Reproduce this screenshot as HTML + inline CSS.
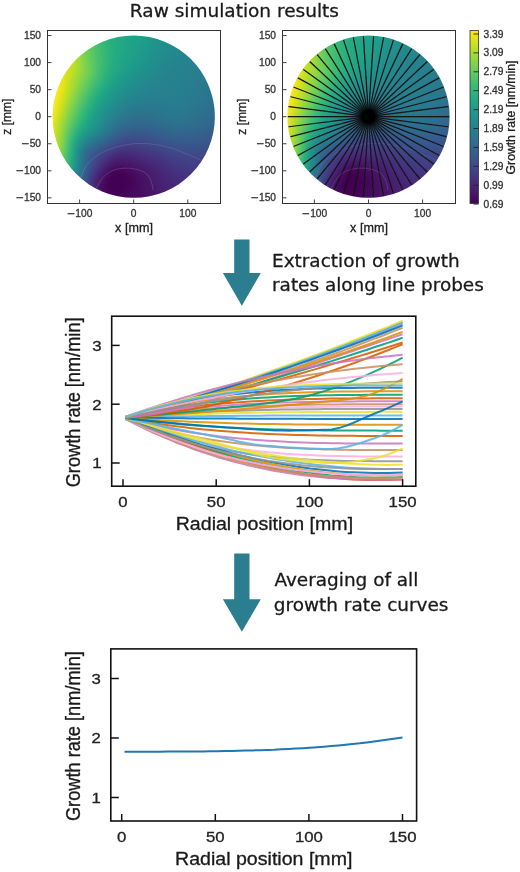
<!DOCTYPE html>
<html><head><meta charset="utf-8"><title>Raw simulation results</title>
<style>
html,body{margin:0;padding:0;background:#fff;}
body{width:520px;height:872px;position:relative;overflow:hidden;}
.fld{position:absolute;}
.fld div{position:absolute;left:0;top:0;width:100%;height:100%;}
svg{position:absolute;left:0;top:0;}
</style></head><body>
<div class="fld" style="left:49.55px;top:32.55px;width:168.30px;height:168.30px;clip-path:circle(81.15px at 50% 50%)">
<div style="background:conic-gradient(#20a386 0deg,#1fa088 5deg,#1f9a8a 10deg,#1f958b 15deg,#20928c 20deg,#228d8d 25deg,#238a8d 30deg,#24868e 35deg,#25838e 40deg,#26828e 45deg,#27808e 50deg,#277e8e 55deg,#297b8e 60deg,#29798e 65deg,#2a768e 70deg,#2b748e 75deg,#2d718e 80deg,#2e6d8e 85deg,#30698e 90deg,#32658e 95deg,#34608d 100deg,#38598c 105deg,#3b528b 110deg,#3e4c8a 115deg,#414487 120deg,#433e85 125deg,#443a83 130deg,#453581 135deg,#472f7d 140deg,#472a7a 145deg,#482677 150deg,#482374 155deg,#481f70 160deg,#48186a 165deg,#471365 170deg,#470e61 175deg,#460b5e 180deg,#46085c 185deg,#450457 190deg,#440256 195deg,#46075a 200deg,#471365 205deg,#482878 210deg,#414487 215deg,#32658e 220deg,#25838e 225deg,#1fa187 230deg,#3aba76 235deg,#60ca60 240deg,#8bd646 245deg,#addc30 250deg,#c5e021 255deg,#d8e219 260deg,#e7e419 265deg,#f6e620 270deg,#fde725 275deg,#fde725 280deg,#fde725 285deg,#fde725 290deg,#f6e620 295deg,#e5e419 300deg,#d5e21a 305deg,#c8e020 310deg,#b0dd2f 315deg,#89d548 320deg,#6ccd5a 325deg,#54c568 330deg,#40bd72 335deg,#2fb47c 340deg,#27ad81 345deg,#25ab82 350deg,#22a785 355deg,#20a386 360deg)"></div>
<div style="background:conic-gradient(#1fa287 0deg,#1f9e89 5deg,#1f998a 10deg,#1f958b 15deg,#21918c 20deg,#228d8d 25deg,#23898e 30deg,#24868e 35deg,#25838e 40deg,#26828e 45deg,#27808e 50deg,#277e8e 55deg,#287c8e 60deg,#297a8e 65deg,#2a788e 70deg,#2a768e 75deg,#2c738e 80deg,#2d708e 85deg,#2f6c8e 90deg,#31688e 95deg,#32648e 100deg,#355e8d 105deg,#38588c 110deg,#3c508b 115deg,#3e4989 120deg,#414287 125deg,#433e85 130deg,#453882 135deg,#46337f 140deg,#472d7b 145deg,#482878 150deg,#482475 155deg,#481f70 160deg,#48186a 165deg,#471365 170deg,#470e61 175deg,#460a5d 180deg,#450559 185deg,#440154 190deg,#440154 195deg,#440154 200deg,#470d60 205deg,#482071 210deg,#443a83 215deg,#38588c 220deg,#2c738e 225deg,#228d8d 230deg,#1fa287 235deg,#32b67a 240deg,#52c569 245deg,#73d056 250deg,#8bd646 255deg,#a2da37 260deg,#b2dd2d 265deg,#c2df23 270deg,#d0e11c 275deg,#d8e219 280deg,#d8e219 285deg,#d8e219 290deg,#d0e11c 295deg,#c2df23 300deg,#b8de29 305deg,#aadc32 310deg,#95d840 315deg,#77d153 320deg,#5ec962 325deg,#4ac16d 330deg,#3aba76 335deg,#2db27d 340deg,#25ac82 345deg,#23a983 350deg,#21a585 355deg,#1fa287 360deg);-webkit-mask-image:radial-gradient(circle at 50% 50%,#000 74.39px,transparent 81.15px);mask-image:radial-gradient(circle at 50% 50%,#000 74.39px,transparent 81.15px)"></div>
<div style="background:conic-gradient(#1fa188 0deg,#1e9d89 5deg,#1f988b 10deg,#1f948c 15deg,#21908d 20deg,#228c8d 25deg,#23898e 30deg,#24868e 35deg,#25838e 40deg,#26828e 45deg,#27808e 50deg,#277f8e 55deg,#287d8e 60deg,#287c8e 65deg,#297a8e 70deg,#2a788e 75deg,#2b758e 80deg,#2c728e 85deg,#2e6f8e 90deg,#2f6c8e 95deg,#31678e 100deg,#33628d 105deg,#365c8d 110deg,#39558c 115deg,#3d4e8a 120deg,#3f4788 125deg,#424186 130deg,#443b84 135deg,#453581 140deg,#472f7d 145deg,#472a7a 150deg,#482475 155deg,#481f70 160deg,#48186a 165deg,#471365 170deg,#470d60 175deg,#46075a 180deg,#440256 185deg,#440154 190deg,#440154 195deg,#440154 200deg,#460b5e 205deg,#481d6f 210deg,#453581 215deg,#3d4d8a 220deg,#33638d 225deg,#2a768e 230deg,#23888e 235deg,#1e9b8a 240deg,#26ad81 245deg,#3dbc74 250deg,#56c667 255deg,#6ccd5a 260deg,#7fd34e 265deg,#8ed645 270deg,#9bd93c 275deg,#a2da37 280deg,#a8db34 285deg,#a8db34 290deg,#a5db36 295deg,#9dd93b 300deg,#95d840 305deg,#8bd646 310deg,#7cd250 315deg,#67cc5c 320deg,#52c569 325deg,#40bd72 330deg,#34b679 335deg,#2ab07f 340deg,#25ab82 345deg,#22a785 350deg,#20a486 355deg,#1fa188 360deg);-webkit-mask-image:radial-gradient(circle at 50% 50%,#000 67.63px,transparent 74.39px);mask-image:radial-gradient(circle at 50% 50%,#000 67.63px,transparent 74.39px)"></div>
<div style="background:conic-gradient(#1f9f88 0deg,#1e9b8a 5deg,#1f978b 10deg,#20928c 15deg,#218f8d 20deg,#228b8d 25deg,#23888e 30deg,#25858e 35deg,#25838e 40deg,#26828e 45deg,#26818e 50deg,#277f8e 55deg,#277e8e 60deg,#287d8e 65deg,#297b8e 70deg,#297a8e 75deg,#2a778e 80deg,#2b748e 85deg,#2c718e 90deg,#2e6f8e 95deg,#306a8e 100deg,#32658e 105deg,#34608d 110deg,#375a8c 115deg,#3a538b 120deg,#3e4c8a 125deg,#404588 130deg,#423f85 135deg,#453882 140deg,#46327e 145deg,#472c7a 150deg,#482576 155deg,#482071 160deg,#481a6c 165deg,#481467 170deg,#470e61 175deg,#46085c 180deg,#450457 185deg,#440154 190deg,#440154 195deg,#440256 200deg,#470e61 205deg,#481f70 210deg,#46337f 215deg,#404688 220deg,#39568c 225deg,#32658e 230deg,#2c728e 235deg,#25858e 240deg,#1f978b 245deg,#22a884 250deg,#31b57b 255deg,#42be71 260deg,#52c569 265deg,#60ca60 270deg,#6ccd5a 275deg,#73d056 280deg,#77d153 285deg,#7ad151 290deg,#7ad151 295deg,#77d153 300deg,#73d056 305deg,#6ccd5a 310deg,#63cb5f 315deg,#54c568 320deg,#44bf70 325deg,#38b977 330deg,#2eb37c 335deg,#27ad81 340deg,#23a983 345deg,#21a585 350deg,#1fa287 355deg,#1f9f88 360deg);-webkit-mask-image:radial-gradient(circle at 50% 50%,#000 60.86px,transparent 67.63px);mask-image:radial-gradient(circle at 50% 50%,#000 60.86px,transparent 67.63px)"></div>
<div style="background:conic-gradient(#1e9c89 0deg,#1f988b 5deg,#1f948c 10deg,#20928c 15deg,#218e8d 20deg,#238a8d 25deg,#24878e 30deg,#25858e 35deg,#25838e 40deg,#26828e 45deg,#26818e 50deg,#27808e 55deg,#277f8e 60deg,#277e8e 65deg,#287c8e 70deg,#297b8e 75deg,#29798e 80deg,#2a778e 85deg,#2b748e 90deg,#2d718e 95deg,#2e6d8e 100deg,#31688e 105deg,#33638d 110deg,#365d8d 115deg,#39568c 120deg,#3c508b 125deg,#3e4989 130deg,#414287 135deg,#433d84 140deg,#453581 145deg,#472f7d 150deg,#482979 155deg,#482374 160deg,#481d6f 165deg,#48186a 170deg,#481467 175deg,#471063 180deg,#460b5e 185deg,#46085c 190deg,#46085c 195deg,#470d60 200deg,#481769 205deg,#482475 210deg,#46337f 215deg,#414287 220deg,#3b518b 225deg,#355e8d 230deg,#2f6c8e 235deg,#297b8e 240deg,#228b8d 245deg,#1f9a8a 250deg,#21a685 255deg,#29af7f 260deg,#34b679 265deg,#3dbc74 270deg,#44bf70 275deg,#4cc26c 280deg,#50c46a 285deg,#54c568 290deg,#54c568 295deg,#54c568 300deg,#50c46a 305deg,#4cc26c 310deg,#46c06f 315deg,#3dbc74 320deg,#35b779 325deg,#2eb37c 330deg,#27ad81 335deg,#24aa83 340deg,#21a585 345deg,#1fa287 350deg,#1f9f88 355deg,#1e9c89 360deg);-webkit-mask-image:radial-gradient(circle at 50% 50%,#000 54.10px,transparent 60.86px);mask-image:radial-gradient(circle at 50% 50%,#000 54.10px,transparent 60.86px)"></div>
<div style="background:conic-gradient(#1f988b 0deg,#1f958b 5deg,#20928c 10deg,#218f8d 15deg,#228c8d 20deg,#23898e 25deg,#24878e 30deg,#25848e 35deg,#26828e 40deg,#26828e 45deg,#26818e 50deg,#27808e 55deg,#277f8e 60deg,#277e8e 65deg,#287d8e 70deg,#287c8e 75deg,#297b8e 80deg,#29798e 85deg,#2a768e 90deg,#2c738e 95deg,#2d708e 100deg,#2f6b8e 105deg,#31668e 110deg,#34618d 115deg,#375b8d 120deg,#3a548c 125deg,#3d4e8a 130deg,#3f4788 135deg,#424186 140deg,#443a83 145deg,#463480 150deg,#472f7d 155deg,#472a7a 160deg,#482576 165deg,#482071 170deg,#481c6e 175deg,#481a6c 180deg,#481769 185deg,#481668 190deg,#481769 195deg,#481b6d 200deg,#482173 205deg,#472c7a 210deg,#453882 215deg,#404588 220deg,#3b528b 225deg,#355f8d 230deg,#2e6d8e 235deg,#29798e 240deg,#24868e 245deg,#20928c 250deg,#1e9b8a 255deg,#1fa287 260deg,#22a884 265deg,#26ad81 270deg,#2ab07f 275deg,#2eb37c 280deg,#32b67a 285deg,#34b679 290deg,#35b779 295deg,#35b779 300deg,#34b679 305deg,#32b67a 310deg,#2fb47c 315deg,#2cb17e 320deg,#27ad81 325deg,#25ab82 330deg,#22a785 335deg,#20a486 340deg,#1fa188 345deg,#1f9e89 350deg,#1e9b8a 355deg,#1f988b 360deg);-webkit-mask-image:radial-gradient(circle at 50% 50%,#000 47.34px,transparent 54.10px);mask-image:radial-gradient(circle at 50% 50%,#000 47.34px,transparent 54.10px)"></div>
<div style="background:conic-gradient(#20938c 0deg,#20928c 5deg,#218f8d 10deg,#228d8d 15deg,#238a8d 20deg,#23888e 25deg,#25858e 30deg,#25848e 35deg,#26828e 40deg,#26818e 45deg,#27808e 50deg,#277f8e 55deg,#277f8e 60deg,#277e8e 65deg,#287d8e 70deg,#287c8e 75deg,#297b8e 80deg,#29798e 85deg,#2a778e 90deg,#2b748e 95deg,#2d718e 100deg,#2f6c8e 105deg,#31688e 110deg,#33638d 115deg,#355e8d 120deg,#38588c 125deg,#3b528b 130deg,#3d4d8a 135deg,#3f4788 140deg,#424186 145deg,#443b84 150deg,#453781 155deg,#46337f 160deg,#472e7c 165deg,#472c7a 170deg,#482878 175deg,#482677 180deg,#482475 185deg,#482475 190deg,#482576 195deg,#482878 200deg,#472e7c 205deg,#453781 210deg,#424186 215deg,#3e4c8a 220deg,#38588c 225deg,#33638d 230deg,#2e6f8e 235deg,#29798e 240deg,#25838e 245deg,#228c8d 250deg,#20928c 255deg,#1f988b 260deg,#1e9c89 265deg,#1fa088 270deg,#1fa287 275deg,#21a585 280deg,#22a785 285deg,#22a884 290deg,#23a983 295deg,#24aa83 300deg,#23a983 305deg,#22a884 310deg,#22a785 315deg,#21a585 320deg,#20a386 325deg,#1fa187 330deg,#1fa088 335deg,#1e9d89 340deg,#1e9b8a 345deg,#1f988b 350deg,#1f968b 355deg,#20938c 360deg);-webkit-mask-image:radial-gradient(circle at 50% 50%,#000 40.58px,transparent 47.34px);mask-image:radial-gradient(circle at 50% 50%,#000 40.58px,transparent 47.34px)"></div>
<div style="background:conic-gradient(#218f8d 0deg,#228d8d 5deg,#228b8d 10deg,#23898e 15deg,#23888e 20deg,#24868e 25deg,#25848e 30deg,#26828e 35deg,#26828e 40deg,#26818e 45deg,#27808e 50deg,#277f8e 55deg,#277e8e 60deg,#287d8e 65deg,#287c8e 70deg,#297b8e 75deg,#29798e 80deg,#2a788e 85deg,#2b758e 90deg,#2c738e 95deg,#2d708e 100deg,#2e6d8e 105deg,#30698e 110deg,#32648e 115deg,#34608d 120deg,#365c8d 125deg,#39568c 130deg,#3b528b 135deg,#3d4d8a 140deg,#3f4889 145deg,#404588 150deg,#424086 155deg,#433d84 160deg,#443a83 165deg,#453781 170deg,#453581 175deg,#463480 180deg,#46337f 185deg,#46337f 190deg,#453581 195deg,#443983 200deg,#433e85 205deg,#414487 210deg,#3e4c8a 215deg,#3a548c 220deg,#365d8d 225deg,#31668e 230deg,#2e6f8e 235deg,#2a768e 240deg,#277e8e 245deg,#25848e 250deg,#23898e 255deg,#218e8d 260deg,#20928c 265deg,#1f948c 270deg,#1f968b 275deg,#1f998a 280deg,#1f9a8a 285deg,#1e9c89 290deg,#1e9d89 295deg,#1e9d89 300deg,#1e9d89 305deg,#1e9d89 310deg,#1e9c89 315deg,#1e9b8a 320deg,#1f9a8a 325deg,#1f998a 330deg,#1f978b 335deg,#1f968b 340deg,#1f948c 345deg,#20928c 350deg,#21918c 355deg,#218f8d 360deg);-webkit-mask-image:radial-gradient(circle at 50% 50%,#000 33.81px,transparent 40.58px);mask-image:radial-gradient(circle at 50% 50%,#000 33.81px,transparent 40.58px)"></div>
<div style="background:conic-gradient(#238a8d 0deg,#23898e 5deg,#24878e 10deg,#24868e 15deg,#25848e 20deg,#25838e 25deg,#26828e 30deg,#26818e 35deg,#27808e 40deg,#277f8e 45deg,#277e8e 50deg,#287d8e 55deg,#287c8e 60deg,#297b8e 65deg,#297a8e 70deg,#2a788e 75deg,#2a778e 80deg,#2b758e 85deg,#2c738e 90deg,#2c718e 95deg,#2e6f8e 100deg,#2f6c8e 105deg,#30698e 110deg,#31668e 115deg,#33628d 120deg,#355f8d 125deg,#375b8d 130deg,#38588c 135deg,#3a548c 140deg,#3b518b 145deg,#3d4e8a 150deg,#3e4a89 155deg,#3f4889 160deg,#404688 165deg,#404588 170deg,#414487 175deg,#414287 180deg,#414287 185deg,#414487 190deg,#404588 195deg,#3f4889 200deg,#3e4c8a 205deg,#3c508b 210deg,#39558c 215deg,#375b8d 220deg,#34618d 225deg,#31678e 230deg,#2e6d8e 235deg,#2c728e 240deg,#2a788e 245deg,#287d8e 250deg,#26818e 255deg,#25848e 260deg,#24878e 265deg,#238a8d 270deg,#228c8d 275deg,#218e8d 280deg,#218f8d 285deg,#21918c 290deg,#20928c 295deg,#20928c 300deg,#20928c 305deg,#20928c 310deg,#20928c 315deg,#20928c 320deg,#20928c 325deg,#21918c 330deg,#21908d 335deg,#218f8d 340deg,#218e8d 345deg,#228d8d 350deg,#228b8d 355deg,#238a8d 360deg);-webkit-mask-image:radial-gradient(circle at 50% 50%,#000 27.05px,transparent 33.81px);mask-image:radial-gradient(circle at 50% 50%,#000 27.05px,transparent 33.81px)"></div>
<div style="background:conic-gradient(#25858e 0deg,#25848e 5deg,#25838e 10deg,#26828e 15deg,#26828e 20deg,#26818e 25deg,#27808e 30deg,#277f8e 35deg,#277e8e 40deg,#287d8e 45deg,#297b8e 50deg,#297a8e 55deg,#29798e 60deg,#2a788e 65deg,#2a778e 70deg,#2a768e 75deg,#2b748e 80deg,#2c738e 85deg,#2c718e 90deg,#2d708e 95deg,#2e6e8e 100deg,#2f6c8e 105deg,#30698e 110deg,#31678e 115deg,#32658e 120deg,#33628d 125deg,#34608d 130deg,#355e8d 135deg,#375b8d 140deg,#38598c 145deg,#39568c 150deg,#39558c 155deg,#3a538b 160deg,#3b528b 165deg,#3b518b 170deg,#3b518b 175deg,#3b518b 180deg,#3b518b 185deg,#3b528b 190deg,#3a538b 195deg,#39558c 200deg,#38588c 205deg,#375b8d 210deg,#355e8d 215deg,#34618d 220deg,#32658e 225deg,#30698e 230deg,#2e6d8e 235deg,#2d708e 240deg,#2c738e 245deg,#2a768e 250deg,#29798e 255deg,#287c8e 260deg,#277f8e 265deg,#26818e 270deg,#26828e 275deg,#25848e 280deg,#25858e 285deg,#24868e 290deg,#24878e 295deg,#23888e 300deg,#23888e 305deg,#23898e 310deg,#23898e 315deg,#23898e 320deg,#23898e 325deg,#23888e 330deg,#23888e 335deg,#23888e 340deg,#24878e 345deg,#24868e 350deg,#25858e 355deg,#25858e 360deg);-webkit-mask-image:radial-gradient(circle at 50% 50%,#000 20.29px,transparent 27.05px);mask-image:radial-gradient(circle at 50% 50%,#000 20.29px,transparent 27.05px)"></div>
<div style="background:conic-gradient(#277f8e 0deg,#277f8e 5deg,#277e8e 10deg,#277e8e 15deg,#287d8e 20deg,#287c8e 25deg,#287c8e 30deg,#297b8e 35deg,#297a8e 40deg,#29798e 45deg,#2a788e 50deg,#2a778e 55deg,#2a768e 60deg,#2b758e 65deg,#2b748e 70deg,#2c738e 75deg,#2c728e 80deg,#2c718e 85deg,#2d708e 90deg,#2e6f8e 95deg,#2e6e8e 100deg,#2f6c8e 105deg,#2f6b8e 110deg,#30698e 115deg,#31688e 120deg,#31668e 125deg,#32658e 130deg,#32648e 135deg,#33628d 140deg,#34618d 145deg,#34608d 150deg,#355f8d 155deg,#355f8d 160deg,#355e8d 165deg,#355e8d 170deg,#355e8d 175deg,#355e8d 180deg,#355e8d 185deg,#355f8d 190deg,#34608d 195deg,#34618d 200deg,#33628d 205deg,#32648e 210deg,#32658e 215deg,#31678e 220deg,#30698e 225deg,#2f6b8e 230deg,#2e6d8e 235deg,#2e6f8e 240deg,#2d718e 245deg,#2c728e 250deg,#2b748e 255deg,#2a768e 260deg,#2a788e 265deg,#29798e 270deg,#297b8e 275deg,#287c8e 280deg,#287d8e 285deg,#277e8e 290deg,#277f8e 295deg,#27808e 300deg,#27808e 305deg,#26818e 310deg,#26818e 315deg,#26818e 320deg,#26818e 325deg,#26818e 330deg,#26818e 335deg,#26818e 340deg,#26818e 345deg,#27808e 350deg,#27808e 355deg,#277f8e 360deg);-webkit-mask-image:radial-gradient(circle at 50% 50%,#000 13.53px,transparent 20.29px);mask-image:radial-gradient(circle at 50% 50%,#000 13.53px,transparent 20.29px)"></div>
<div style="background:conic-gradient(#29798e 0deg,#2a788e 5deg,#2a788e 10deg,#2a788e 15deg,#2a778e 20deg,#2a778e 25deg,#2a778e 30deg,#2a768e 35deg,#2a768e 40deg,#2b758e 45deg,#2b758e 50deg,#2b748e 55deg,#2c738e 60deg,#2c738e 65deg,#2c728e 70deg,#2c718e 75deg,#2c718e 80deg,#2d718e 85deg,#2d708e 90deg,#2d708e 95deg,#2e6f8e 100deg,#2e6e8e 105deg,#2e6d8e 110deg,#2e6d8e 115deg,#2f6c8e 120deg,#2f6c8e 125deg,#2f6b8e 130deg,#306a8e 135deg,#306a8e 140deg,#30698e 145deg,#30698e 150deg,#30698e 155deg,#30698e 160deg,#31688e 165deg,#31688e 170deg,#31688e 175deg,#31688e 180deg,#30698e 185deg,#30698e 190deg,#30698e 195deg,#306a8e 200deg,#306a8e 205deg,#2f6b8e 210deg,#2f6c8e 215deg,#2e6d8e 220deg,#2e6d8e 225deg,#2e6e8e 230deg,#2e6f8e 235deg,#2d708e 240deg,#2d718e 245deg,#2c718e 250deg,#2c728e 255deg,#2c728e 260deg,#2c738e 265deg,#2b748e 270deg,#2b758e 275deg,#2b758e 280deg,#2a768e 285deg,#2a778e 290deg,#2a778e 295deg,#2a788e 300deg,#2a788e 305deg,#2a788e 310deg,#29798e 315deg,#29798e 320deg,#29798e 325deg,#29798e 330deg,#29798e 335deg,#29798e 340deg,#29798e 345deg,#29798e 350deg,#29798e 355deg,#29798e 360deg);-webkit-mask-image:radial-gradient(circle at 50% 50%,#000 6.76px,transparent 13.53px);mask-image:radial-gradient(circle at 50% 50%,#000 6.76px,transparent 13.53px)"></div>
<div style="background:#2c718e;-webkit-mask-image:radial-gradient(circle at 50% 50%,#000 0.00px,transparent 6.76px);mask-image:radial-gradient(circle at 50% 50%,#000 0.00px,transparent 6.76px)"></div>
</div>
<div class="fld" style="left:284.35px;top:32.55px;width:168.30px;height:168.30px;clip-path:circle(81.15px at 50% 50%)">
<div style="background:conic-gradient(#20a386 0deg,#1fa088 5deg,#1f9a8a 10deg,#1f958b 15deg,#20928c 20deg,#228d8d 25deg,#238a8d 30deg,#24868e 35deg,#25838e 40deg,#26828e 45deg,#27808e 50deg,#277e8e 55deg,#297b8e 60deg,#29798e 65deg,#2a768e 70deg,#2b748e 75deg,#2d718e 80deg,#2e6d8e 85deg,#30698e 90deg,#32658e 95deg,#34608d 100deg,#38598c 105deg,#3b528b 110deg,#3e4c8a 115deg,#414487 120deg,#433e85 125deg,#443a83 130deg,#453581 135deg,#472f7d 140deg,#472a7a 145deg,#482677 150deg,#482374 155deg,#481f70 160deg,#48186a 165deg,#471365 170deg,#470e61 175deg,#460b5e 180deg,#46085c 185deg,#450457 190deg,#440256 195deg,#46075a 200deg,#471365 205deg,#482878 210deg,#414487 215deg,#32658e 220deg,#25838e 225deg,#1fa187 230deg,#3aba76 235deg,#60ca60 240deg,#8bd646 245deg,#addc30 250deg,#c5e021 255deg,#d8e219 260deg,#e7e419 265deg,#f6e620 270deg,#fde725 275deg,#fde725 280deg,#fde725 285deg,#fde725 290deg,#f6e620 295deg,#e5e419 300deg,#d5e21a 305deg,#c8e020 310deg,#b0dd2f 315deg,#89d548 320deg,#6ccd5a 325deg,#54c568 330deg,#40bd72 335deg,#2fb47c 340deg,#27ad81 345deg,#25ab82 350deg,#22a785 355deg,#20a386 360deg)"></div>
<div style="background:conic-gradient(#1fa287 0deg,#1f9e89 5deg,#1f998a 10deg,#1f958b 15deg,#21918c 20deg,#228d8d 25deg,#23898e 30deg,#24868e 35deg,#25838e 40deg,#26828e 45deg,#27808e 50deg,#277e8e 55deg,#287c8e 60deg,#297a8e 65deg,#2a788e 70deg,#2a768e 75deg,#2c738e 80deg,#2d708e 85deg,#2f6c8e 90deg,#31688e 95deg,#32648e 100deg,#355e8d 105deg,#38588c 110deg,#3c508b 115deg,#3e4989 120deg,#414287 125deg,#433e85 130deg,#453882 135deg,#46337f 140deg,#472d7b 145deg,#482878 150deg,#482475 155deg,#481f70 160deg,#48186a 165deg,#471365 170deg,#470e61 175deg,#460a5d 180deg,#450559 185deg,#440154 190deg,#440154 195deg,#440154 200deg,#470d60 205deg,#482071 210deg,#443a83 215deg,#38588c 220deg,#2c738e 225deg,#228d8d 230deg,#1fa287 235deg,#32b67a 240deg,#52c569 245deg,#73d056 250deg,#8bd646 255deg,#a2da37 260deg,#b2dd2d 265deg,#c2df23 270deg,#d0e11c 275deg,#d8e219 280deg,#d8e219 285deg,#d8e219 290deg,#d0e11c 295deg,#c2df23 300deg,#b8de29 305deg,#aadc32 310deg,#95d840 315deg,#77d153 320deg,#5ec962 325deg,#4ac16d 330deg,#3aba76 335deg,#2db27d 340deg,#25ac82 345deg,#23a983 350deg,#21a585 355deg,#1fa287 360deg);-webkit-mask-image:radial-gradient(circle at 50% 50%,#000 74.39px,transparent 81.15px);mask-image:radial-gradient(circle at 50% 50%,#000 74.39px,transparent 81.15px)"></div>
<div style="background:conic-gradient(#1fa188 0deg,#1e9d89 5deg,#1f988b 10deg,#1f948c 15deg,#21908d 20deg,#228c8d 25deg,#23898e 30deg,#24868e 35deg,#25838e 40deg,#26828e 45deg,#27808e 50deg,#277f8e 55deg,#287d8e 60deg,#287c8e 65deg,#297a8e 70deg,#2a788e 75deg,#2b758e 80deg,#2c728e 85deg,#2e6f8e 90deg,#2f6c8e 95deg,#31678e 100deg,#33628d 105deg,#365c8d 110deg,#39558c 115deg,#3d4e8a 120deg,#3f4788 125deg,#424186 130deg,#443b84 135deg,#453581 140deg,#472f7d 145deg,#472a7a 150deg,#482475 155deg,#481f70 160deg,#48186a 165deg,#471365 170deg,#470d60 175deg,#46075a 180deg,#440256 185deg,#440154 190deg,#440154 195deg,#440154 200deg,#460b5e 205deg,#481d6f 210deg,#453581 215deg,#3d4d8a 220deg,#33638d 225deg,#2a768e 230deg,#23888e 235deg,#1e9b8a 240deg,#26ad81 245deg,#3dbc74 250deg,#56c667 255deg,#6ccd5a 260deg,#7fd34e 265deg,#8ed645 270deg,#9bd93c 275deg,#a2da37 280deg,#a8db34 285deg,#a8db34 290deg,#a5db36 295deg,#9dd93b 300deg,#95d840 305deg,#8bd646 310deg,#7cd250 315deg,#67cc5c 320deg,#52c569 325deg,#40bd72 330deg,#34b679 335deg,#2ab07f 340deg,#25ab82 345deg,#22a785 350deg,#20a486 355deg,#1fa188 360deg);-webkit-mask-image:radial-gradient(circle at 50% 50%,#000 67.63px,transparent 74.39px);mask-image:radial-gradient(circle at 50% 50%,#000 67.63px,transparent 74.39px)"></div>
<div style="background:conic-gradient(#1f9f88 0deg,#1e9b8a 5deg,#1f978b 10deg,#20928c 15deg,#218f8d 20deg,#228b8d 25deg,#23888e 30deg,#25858e 35deg,#25838e 40deg,#26828e 45deg,#26818e 50deg,#277f8e 55deg,#277e8e 60deg,#287d8e 65deg,#297b8e 70deg,#297a8e 75deg,#2a778e 80deg,#2b748e 85deg,#2c718e 90deg,#2e6f8e 95deg,#306a8e 100deg,#32658e 105deg,#34608d 110deg,#375a8c 115deg,#3a538b 120deg,#3e4c8a 125deg,#404588 130deg,#423f85 135deg,#453882 140deg,#46327e 145deg,#472c7a 150deg,#482576 155deg,#482071 160deg,#481a6c 165deg,#481467 170deg,#470e61 175deg,#46085c 180deg,#450457 185deg,#440154 190deg,#440154 195deg,#440256 200deg,#470e61 205deg,#481f70 210deg,#46337f 215deg,#404688 220deg,#39568c 225deg,#32658e 230deg,#2c728e 235deg,#25858e 240deg,#1f978b 245deg,#22a884 250deg,#31b57b 255deg,#42be71 260deg,#52c569 265deg,#60ca60 270deg,#6ccd5a 275deg,#73d056 280deg,#77d153 285deg,#7ad151 290deg,#7ad151 295deg,#77d153 300deg,#73d056 305deg,#6ccd5a 310deg,#63cb5f 315deg,#54c568 320deg,#44bf70 325deg,#38b977 330deg,#2eb37c 335deg,#27ad81 340deg,#23a983 345deg,#21a585 350deg,#1fa287 355deg,#1f9f88 360deg);-webkit-mask-image:radial-gradient(circle at 50% 50%,#000 60.86px,transparent 67.63px);mask-image:radial-gradient(circle at 50% 50%,#000 60.86px,transparent 67.63px)"></div>
<div style="background:conic-gradient(#1e9c89 0deg,#1f988b 5deg,#1f948c 10deg,#20928c 15deg,#218e8d 20deg,#238a8d 25deg,#24878e 30deg,#25858e 35deg,#25838e 40deg,#26828e 45deg,#26818e 50deg,#27808e 55deg,#277f8e 60deg,#277e8e 65deg,#287c8e 70deg,#297b8e 75deg,#29798e 80deg,#2a778e 85deg,#2b748e 90deg,#2d718e 95deg,#2e6d8e 100deg,#31688e 105deg,#33638d 110deg,#365d8d 115deg,#39568c 120deg,#3c508b 125deg,#3e4989 130deg,#414287 135deg,#433d84 140deg,#453581 145deg,#472f7d 150deg,#482979 155deg,#482374 160deg,#481d6f 165deg,#48186a 170deg,#481467 175deg,#471063 180deg,#460b5e 185deg,#46085c 190deg,#46085c 195deg,#470d60 200deg,#481769 205deg,#482475 210deg,#46337f 215deg,#414287 220deg,#3b518b 225deg,#355e8d 230deg,#2f6c8e 235deg,#297b8e 240deg,#228b8d 245deg,#1f9a8a 250deg,#21a685 255deg,#29af7f 260deg,#34b679 265deg,#3dbc74 270deg,#44bf70 275deg,#4cc26c 280deg,#50c46a 285deg,#54c568 290deg,#54c568 295deg,#54c568 300deg,#50c46a 305deg,#4cc26c 310deg,#46c06f 315deg,#3dbc74 320deg,#35b779 325deg,#2eb37c 330deg,#27ad81 335deg,#24aa83 340deg,#21a585 345deg,#1fa287 350deg,#1f9f88 355deg,#1e9c89 360deg);-webkit-mask-image:radial-gradient(circle at 50% 50%,#000 54.10px,transparent 60.86px);mask-image:radial-gradient(circle at 50% 50%,#000 54.10px,transparent 60.86px)"></div>
<div style="background:conic-gradient(#1f988b 0deg,#1f958b 5deg,#20928c 10deg,#218f8d 15deg,#228c8d 20deg,#23898e 25deg,#24878e 30deg,#25848e 35deg,#26828e 40deg,#26828e 45deg,#26818e 50deg,#27808e 55deg,#277f8e 60deg,#277e8e 65deg,#287d8e 70deg,#287c8e 75deg,#297b8e 80deg,#29798e 85deg,#2a768e 90deg,#2c738e 95deg,#2d708e 100deg,#2f6b8e 105deg,#31668e 110deg,#34618d 115deg,#375b8d 120deg,#3a548c 125deg,#3d4e8a 130deg,#3f4788 135deg,#424186 140deg,#443a83 145deg,#463480 150deg,#472f7d 155deg,#472a7a 160deg,#482576 165deg,#482071 170deg,#481c6e 175deg,#481a6c 180deg,#481769 185deg,#481668 190deg,#481769 195deg,#481b6d 200deg,#482173 205deg,#472c7a 210deg,#453882 215deg,#404588 220deg,#3b528b 225deg,#355f8d 230deg,#2e6d8e 235deg,#29798e 240deg,#24868e 245deg,#20928c 250deg,#1e9b8a 255deg,#1fa287 260deg,#22a884 265deg,#26ad81 270deg,#2ab07f 275deg,#2eb37c 280deg,#32b67a 285deg,#34b679 290deg,#35b779 295deg,#35b779 300deg,#34b679 305deg,#32b67a 310deg,#2fb47c 315deg,#2cb17e 320deg,#27ad81 325deg,#25ab82 330deg,#22a785 335deg,#20a486 340deg,#1fa188 345deg,#1f9e89 350deg,#1e9b8a 355deg,#1f988b 360deg);-webkit-mask-image:radial-gradient(circle at 50% 50%,#000 47.34px,transparent 54.10px);mask-image:radial-gradient(circle at 50% 50%,#000 47.34px,transparent 54.10px)"></div>
<div style="background:conic-gradient(#20938c 0deg,#20928c 5deg,#218f8d 10deg,#228d8d 15deg,#238a8d 20deg,#23888e 25deg,#25858e 30deg,#25848e 35deg,#26828e 40deg,#26818e 45deg,#27808e 50deg,#277f8e 55deg,#277f8e 60deg,#277e8e 65deg,#287d8e 70deg,#287c8e 75deg,#297b8e 80deg,#29798e 85deg,#2a778e 90deg,#2b748e 95deg,#2d718e 100deg,#2f6c8e 105deg,#31688e 110deg,#33638d 115deg,#355e8d 120deg,#38588c 125deg,#3b528b 130deg,#3d4d8a 135deg,#3f4788 140deg,#424186 145deg,#443b84 150deg,#453781 155deg,#46337f 160deg,#472e7c 165deg,#472c7a 170deg,#482878 175deg,#482677 180deg,#482475 185deg,#482475 190deg,#482576 195deg,#482878 200deg,#472e7c 205deg,#453781 210deg,#424186 215deg,#3e4c8a 220deg,#38588c 225deg,#33638d 230deg,#2e6f8e 235deg,#29798e 240deg,#25838e 245deg,#228c8d 250deg,#20928c 255deg,#1f988b 260deg,#1e9c89 265deg,#1fa088 270deg,#1fa287 275deg,#21a585 280deg,#22a785 285deg,#22a884 290deg,#23a983 295deg,#24aa83 300deg,#23a983 305deg,#22a884 310deg,#22a785 315deg,#21a585 320deg,#20a386 325deg,#1fa187 330deg,#1fa088 335deg,#1e9d89 340deg,#1e9b8a 345deg,#1f988b 350deg,#1f968b 355deg,#20938c 360deg);-webkit-mask-image:radial-gradient(circle at 50% 50%,#000 40.58px,transparent 47.34px);mask-image:radial-gradient(circle at 50% 50%,#000 40.58px,transparent 47.34px)"></div>
<div style="background:conic-gradient(#218f8d 0deg,#228d8d 5deg,#228b8d 10deg,#23898e 15deg,#23888e 20deg,#24868e 25deg,#25848e 30deg,#26828e 35deg,#26828e 40deg,#26818e 45deg,#27808e 50deg,#277f8e 55deg,#277e8e 60deg,#287d8e 65deg,#287c8e 70deg,#297b8e 75deg,#29798e 80deg,#2a788e 85deg,#2b758e 90deg,#2c738e 95deg,#2d708e 100deg,#2e6d8e 105deg,#30698e 110deg,#32648e 115deg,#34608d 120deg,#365c8d 125deg,#39568c 130deg,#3b528b 135deg,#3d4d8a 140deg,#3f4889 145deg,#404588 150deg,#424086 155deg,#433d84 160deg,#443a83 165deg,#453781 170deg,#453581 175deg,#463480 180deg,#46337f 185deg,#46337f 190deg,#453581 195deg,#443983 200deg,#433e85 205deg,#414487 210deg,#3e4c8a 215deg,#3a548c 220deg,#365d8d 225deg,#31668e 230deg,#2e6f8e 235deg,#2a768e 240deg,#277e8e 245deg,#25848e 250deg,#23898e 255deg,#218e8d 260deg,#20928c 265deg,#1f948c 270deg,#1f968b 275deg,#1f998a 280deg,#1f9a8a 285deg,#1e9c89 290deg,#1e9d89 295deg,#1e9d89 300deg,#1e9d89 305deg,#1e9d89 310deg,#1e9c89 315deg,#1e9b8a 320deg,#1f9a8a 325deg,#1f998a 330deg,#1f978b 335deg,#1f968b 340deg,#1f948c 345deg,#20928c 350deg,#21918c 355deg,#218f8d 360deg);-webkit-mask-image:radial-gradient(circle at 50% 50%,#000 33.81px,transparent 40.58px);mask-image:radial-gradient(circle at 50% 50%,#000 33.81px,transparent 40.58px)"></div>
<div style="background:conic-gradient(#238a8d 0deg,#23898e 5deg,#24878e 10deg,#24868e 15deg,#25848e 20deg,#25838e 25deg,#26828e 30deg,#26818e 35deg,#27808e 40deg,#277f8e 45deg,#277e8e 50deg,#287d8e 55deg,#287c8e 60deg,#297b8e 65deg,#297a8e 70deg,#2a788e 75deg,#2a778e 80deg,#2b758e 85deg,#2c738e 90deg,#2c718e 95deg,#2e6f8e 100deg,#2f6c8e 105deg,#30698e 110deg,#31668e 115deg,#33628d 120deg,#355f8d 125deg,#375b8d 130deg,#38588c 135deg,#3a548c 140deg,#3b518b 145deg,#3d4e8a 150deg,#3e4a89 155deg,#3f4889 160deg,#404688 165deg,#404588 170deg,#414487 175deg,#414287 180deg,#414287 185deg,#414487 190deg,#404588 195deg,#3f4889 200deg,#3e4c8a 205deg,#3c508b 210deg,#39558c 215deg,#375b8d 220deg,#34618d 225deg,#31678e 230deg,#2e6d8e 235deg,#2c728e 240deg,#2a788e 245deg,#287d8e 250deg,#26818e 255deg,#25848e 260deg,#24878e 265deg,#238a8d 270deg,#228c8d 275deg,#218e8d 280deg,#218f8d 285deg,#21918c 290deg,#20928c 295deg,#20928c 300deg,#20928c 305deg,#20928c 310deg,#20928c 315deg,#20928c 320deg,#20928c 325deg,#21918c 330deg,#21908d 335deg,#218f8d 340deg,#218e8d 345deg,#228d8d 350deg,#228b8d 355deg,#238a8d 360deg);-webkit-mask-image:radial-gradient(circle at 50% 50%,#000 27.05px,transparent 33.81px);mask-image:radial-gradient(circle at 50% 50%,#000 27.05px,transparent 33.81px)"></div>
<div style="background:conic-gradient(#25858e 0deg,#25848e 5deg,#25838e 10deg,#26828e 15deg,#26828e 20deg,#26818e 25deg,#27808e 30deg,#277f8e 35deg,#277e8e 40deg,#287d8e 45deg,#297b8e 50deg,#297a8e 55deg,#29798e 60deg,#2a788e 65deg,#2a778e 70deg,#2a768e 75deg,#2b748e 80deg,#2c738e 85deg,#2c718e 90deg,#2d708e 95deg,#2e6e8e 100deg,#2f6c8e 105deg,#30698e 110deg,#31678e 115deg,#32658e 120deg,#33628d 125deg,#34608d 130deg,#355e8d 135deg,#375b8d 140deg,#38598c 145deg,#39568c 150deg,#39558c 155deg,#3a538b 160deg,#3b528b 165deg,#3b518b 170deg,#3b518b 175deg,#3b518b 180deg,#3b518b 185deg,#3b528b 190deg,#3a538b 195deg,#39558c 200deg,#38588c 205deg,#375b8d 210deg,#355e8d 215deg,#34618d 220deg,#32658e 225deg,#30698e 230deg,#2e6d8e 235deg,#2d708e 240deg,#2c738e 245deg,#2a768e 250deg,#29798e 255deg,#287c8e 260deg,#277f8e 265deg,#26818e 270deg,#26828e 275deg,#25848e 280deg,#25858e 285deg,#24868e 290deg,#24878e 295deg,#23888e 300deg,#23888e 305deg,#23898e 310deg,#23898e 315deg,#23898e 320deg,#23898e 325deg,#23888e 330deg,#23888e 335deg,#23888e 340deg,#24878e 345deg,#24868e 350deg,#25858e 355deg,#25858e 360deg);-webkit-mask-image:radial-gradient(circle at 50% 50%,#000 20.29px,transparent 27.05px);mask-image:radial-gradient(circle at 50% 50%,#000 20.29px,transparent 27.05px)"></div>
<div style="background:conic-gradient(#277f8e 0deg,#277f8e 5deg,#277e8e 10deg,#277e8e 15deg,#287d8e 20deg,#287c8e 25deg,#287c8e 30deg,#297b8e 35deg,#297a8e 40deg,#29798e 45deg,#2a788e 50deg,#2a778e 55deg,#2a768e 60deg,#2b758e 65deg,#2b748e 70deg,#2c738e 75deg,#2c728e 80deg,#2c718e 85deg,#2d708e 90deg,#2e6f8e 95deg,#2e6e8e 100deg,#2f6c8e 105deg,#2f6b8e 110deg,#30698e 115deg,#31688e 120deg,#31668e 125deg,#32658e 130deg,#32648e 135deg,#33628d 140deg,#34618d 145deg,#34608d 150deg,#355f8d 155deg,#355f8d 160deg,#355e8d 165deg,#355e8d 170deg,#355e8d 175deg,#355e8d 180deg,#355e8d 185deg,#355f8d 190deg,#34608d 195deg,#34618d 200deg,#33628d 205deg,#32648e 210deg,#32658e 215deg,#31678e 220deg,#30698e 225deg,#2f6b8e 230deg,#2e6d8e 235deg,#2e6f8e 240deg,#2d718e 245deg,#2c728e 250deg,#2b748e 255deg,#2a768e 260deg,#2a788e 265deg,#29798e 270deg,#297b8e 275deg,#287c8e 280deg,#287d8e 285deg,#277e8e 290deg,#277f8e 295deg,#27808e 300deg,#27808e 305deg,#26818e 310deg,#26818e 315deg,#26818e 320deg,#26818e 325deg,#26818e 330deg,#26818e 335deg,#26818e 340deg,#26818e 345deg,#27808e 350deg,#27808e 355deg,#277f8e 360deg);-webkit-mask-image:radial-gradient(circle at 50% 50%,#000 13.53px,transparent 20.29px);mask-image:radial-gradient(circle at 50% 50%,#000 13.53px,transparent 20.29px)"></div>
<div style="background:conic-gradient(#29798e 0deg,#2a788e 5deg,#2a788e 10deg,#2a788e 15deg,#2a778e 20deg,#2a778e 25deg,#2a778e 30deg,#2a768e 35deg,#2a768e 40deg,#2b758e 45deg,#2b758e 50deg,#2b748e 55deg,#2c738e 60deg,#2c738e 65deg,#2c728e 70deg,#2c718e 75deg,#2c718e 80deg,#2d718e 85deg,#2d708e 90deg,#2d708e 95deg,#2e6f8e 100deg,#2e6e8e 105deg,#2e6d8e 110deg,#2e6d8e 115deg,#2f6c8e 120deg,#2f6c8e 125deg,#2f6b8e 130deg,#306a8e 135deg,#306a8e 140deg,#30698e 145deg,#30698e 150deg,#30698e 155deg,#30698e 160deg,#31688e 165deg,#31688e 170deg,#31688e 175deg,#31688e 180deg,#30698e 185deg,#30698e 190deg,#30698e 195deg,#306a8e 200deg,#306a8e 205deg,#2f6b8e 210deg,#2f6c8e 215deg,#2e6d8e 220deg,#2e6d8e 225deg,#2e6e8e 230deg,#2e6f8e 235deg,#2d708e 240deg,#2d718e 245deg,#2c718e 250deg,#2c728e 255deg,#2c728e 260deg,#2c738e 265deg,#2b748e 270deg,#2b758e 275deg,#2b758e 280deg,#2a768e 285deg,#2a778e 290deg,#2a778e 295deg,#2a788e 300deg,#2a788e 305deg,#2a788e 310deg,#29798e 315deg,#29798e 320deg,#29798e 325deg,#29798e 330deg,#29798e 335deg,#29798e 340deg,#29798e 345deg,#29798e 350deg,#29798e 355deg,#29798e 360deg);-webkit-mask-image:radial-gradient(circle at 50% 50%,#000 6.76px,transparent 13.53px);mask-image:radial-gradient(circle at 50% 50%,#000 6.76px,transparent 13.53px)"></div>
<div style="background:#2c718e;-webkit-mask-image:radial-gradient(circle at 50% 50%,#000 0.00px,transparent 6.76px);mask-image:radial-gradient(circle at 50% 50%,#000 0.00px,transparent 6.76px)"></div>
</div>
<svg width="520" height="872" viewBox="0 0 520 872">
<rect x="47.5" y="30.5" width="173.0" height="173.0" fill="none" stroke="#333" stroke-width="1"/>
<line x1="47.50" y1="35.55" x2="51.50" y2="35.55" stroke="#444" stroke-width="1" />
<text transform="translate(41.00,39.15) scale(1.02,1)" font-family='"Liberation Sans",Arial,sans-serif' font-size="10" text-anchor="end" fill="#333" stroke="#333" stroke-width="0.3" >150</text>
<line x1="47.50" y1="62.60" x2="51.50" y2="62.60" stroke="#444" stroke-width="1" />
<text transform="translate(41.00,66.20) scale(1.02,1)" font-family='"Liberation Sans",Arial,sans-serif' font-size="10" text-anchor="end" fill="#333" stroke="#333" stroke-width="0.3" >100</text>
<line x1="47.50" y1="89.65" x2="51.50" y2="89.65" stroke="#444" stroke-width="1" />
<text transform="translate(41.00,93.25) scale(1.02,1)" font-family='"Liberation Sans",Arial,sans-serif' font-size="10" text-anchor="end" fill="#333" stroke="#333" stroke-width="0.3" >50</text>
<line x1="47.50" y1="116.70" x2="51.50" y2="116.70" stroke="#444" stroke-width="1" />
<text transform="translate(41.00,120.30) scale(1.02,1)" font-family='"Liberation Sans",Arial,sans-serif' font-size="10" text-anchor="end" fill="#333" stroke="#333" stroke-width="0.3" >0</text>
<line x1="47.50" y1="143.75" x2="51.50" y2="143.75" stroke="#444" stroke-width="1" />
<text transform="translate(41.00,147.35) scale(1.02,1)" font-family='"Liberation Sans",Arial,sans-serif' font-size="10" text-anchor="end" fill="#333" stroke="#333" stroke-width="0.3" ><tspan font-family="'DejaVu Sans',sans-serif">−</tspan>50</text>
<line x1="47.50" y1="170.80" x2="51.50" y2="170.80" stroke="#444" stroke-width="1" />
<text transform="translate(41.00,174.40) scale(1.02,1)" font-family='"Liberation Sans",Arial,sans-serif' font-size="10" text-anchor="end" fill="#333" stroke="#333" stroke-width="0.3" ><tspan font-family="'DejaVu Sans',sans-serif">−</tspan>100</text>
<line x1="47.50" y1="197.85" x2="51.50" y2="197.85" stroke="#444" stroke-width="1" />
<text transform="translate(41.00,201.45) scale(1.02,1)" font-family='"Liberation Sans",Arial,sans-serif' font-size="10" text-anchor="end" fill="#333" stroke="#333" stroke-width="0.3" ><tspan font-family="'DejaVu Sans',sans-serif">−</tspan>150</text>
<line x1="79.60" y1="203.50" x2="79.60" y2="199.50" stroke="#444" stroke-width="1" />
<text transform="translate(79.60,217.30) scale(1.02,1)" font-family='"Liberation Sans",Arial,sans-serif' font-size="10" text-anchor="middle" fill="#333" stroke="#333" stroke-width="0.3" ><tspan font-family="'DejaVu Sans',sans-serif">−</tspan>100</text>
<line x1="133.70" y1="203.50" x2="133.70" y2="199.50" stroke="#444" stroke-width="1" />
<text transform="translate(133.70,217.30) scale(1.02,1)" font-family='"Liberation Sans",Arial,sans-serif' font-size="10" text-anchor="middle" fill="#333" stroke="#333" stroke-width="0.3" >0</text>
<line x1="187.80" y1="203.50" x2="187.80" y2="199.50" stroke="#444" stroke-width="1" />
<text transform="translate(187.80,217.30) scale(1.02,1)" font-family='"Liberation Sans",Arial,sans-serif' font-size="10" text-anchor="middle" fill="#333" stroke="#333" stroke-width="0.3" >100</text>
<text transform="translate(134.00,231.50) scale(1.05,1)" font-family='"Liberation Sans",Arial,sans-serif' font-size="12" text-anchor="middle" fill="#222" stroke="#222" stroke-width="0.3" >x [mm]</text>
<text transform="translate(10.90,116.70) scale(1.05,1) rotate(-90)" font-family='"Liberation Sans",Arial,sans-serif' font-size="12" text-anchor="middle" fill="#222" stroke="#222" stroke-width="0.3" >z [mm]</text>
<rect x="282.5" y="30.5" width="173.0" height="173.0" fill="none" stroke="#333" stroke-width="1"/>
<line x1="282.50" y1="35.55" x2="286.50" y2="35.55" stroke="#444" stroke-width="1" />
<text transform="translate(276.00,39.15) scale(1.02,1)" font-family='"Liberation Sans",Arial,sans-serif' font-size="10" text-anchor="end" fill="#333" stroke="#333" stroke-width="0.3" >150</text>
<line x1="282.50" y1="62.60" x2="286.50" y2="62.60" stroke="#444" stroke-width="1" />
<text transform="translate(276.00,66.20) scale(1.02,1)" font-family='"Liberation Sans",Arial,sans-serif' font-size="10" text-anchor="end" fill="#333" stroke="#333" stroke-width="0.3" >100</text>
<line x1="282.50" y1="89.65" x2="286.50" y2="89.65" stroke="#444" stroke-width="1" />
<text transform="translate(276.00,93.25) scale(1.02,1)" font-family='"Liberation Sans",Arial,sans-serif' font-size="10" text-anchor="end" fill="#333" stroke="#333" stroke-width="0.3" >50</text>
<line x1="282.50" y1="116.70" x2="286.50" y2="116.70" stroke="#444" stroke-width="1" />
<text transform="translate(276.00,120.30) scale(1.02,1)" font-family='"Liberation Sans",Arial,sans-serif' font-size="10" text-anchor="end" fill="#333" stroke="#333" stroke-width="0.3" >0</text>
<line x1="282.50" y1="143.75" x2="286.50" y2="143.75" stroke="#444" stroke-width="1" />
<text transform="translate(276.00,147.35) scale(1.02,1)" font-family='"Liberation Sans",Arial,sans-serif' font-size="10" text-anchor="end" fill="#333" stroke="#333" stroke-width="0.3" ><tspan font-family="'DejaVu Sans',sans-serif">−</tspan>50</text>
<line x1="282.50" y1="170.80" x2="286.50" y2="170.80" stroke="#444" stroke-width="1" />
<text transform="translate(276.00,174.40) scale(1.02,1)" font-family='"Liberation Sans",Arial,sans-serif' font-size="10" text-anchor="end" fill="#333" stroke="#333" stroke-width="0.3" ><tspan font-family="'DejaVu Sans',sans-serif">−</tspan>100</text>
<line x1="282.50" y1="197.85" x2="286.50" y2="197.85" stroke="#444" stroke-width="1" />
<text transform="translate(276.00,201.45) scale(1.02,1)" font-family='"Liberation Sans",Arial,sans-serif' font-size="10" text-anchor="end" fill="#333" stroke="#333" stroke-width="0.3" ><tspan font-family="'DejaVu Sans',sans-serif">−</tspan>150</text>
<line x1="314.40" y1="203.50" x2="314.40" y2="199.50" stroke="#444" stroke-width="1" />
<text transform="translate(314.40,217.30) scale(1.02,1)" font-family='"Liberation Sans",Arial,sans-serif' font-size="10" text-anchor="middle" fill="#333" stroke="#333" stroke-width="0.3" ><tspan font-family="'DejaVu Sans',sans-serif">−</tspan>100</text>
<line x1="368.50" y1="203.50" x2="368.50" y2="199.50" stroke="#444" stroke-width="1" />
<text transform="translate(368.50,217.30) scale(1.02,1)" font-family='"Liberation Sans",Arial,sans-serif' font-size="10" text-anchor="middle" fill="#333" stroke="#333" stroke-width="0.3" >0</text>
<line x1="422.60" y1="203.50" x2="422.60" y2="199.50" stroke="#444" stroke-width="1" />
<text transform="translate(422.60,217.30) scale(1.02,1)" font-family='"Liberation Sans",Arial,sans-serif' font-size="10" text-anchor="middle" fill="#333" stroke="#333" stroke-width="0.3" >100</text>
<text transform="translate(369.00,231.50) scale(1.05,1)" font-family='"Liberation Sans",Arial,sans-serif' font-size="12" text-anchor="middle" fill="#222" stroke="#222" stroke-width="0.3" >x [mm]</text>
<text transform="translate(245.90,116.70) scale(1.05,1) rotate(-90)" font-family='"Liberation Sans",Arial,sans-serif' font-size="12" text-anchor="middle" fill="#222" stroke="#222" stroke-width="0.3" >z [mm]</text>
<clipPath id="cl"><circle cx="133.7" cy="116.7" r="80.65"/></clipPath><clipPath id="cr"><circle cx="368.5" cy="116.7" r="80.65"/></clipPath>
<path d="M95.0,193.0 L97.0,187.0 L99.6,182.3 L102.5,178.0 L105.8,174.6 L111.0,171.2 L116.5,169.2 L123.0,168.2 L130.0,168.2 L138.0,169.6 L144.0,172.0 L147.8,175.0 L150.8,180.0 L152.5,186.0 L153.0,190.0" fill="none" stroke="#fff" stroke-opacity="0.15" stroke-width="1" stroke-linejoin="round" clip-path="url(#cl)"/>
<path d="M79.0,183.0 L81.0,177.0 L83.6,170.0 L87.0,164.5 L90.4,160.8 L95.0,157.0 L101.0,153.0 L108.0,149.8 L116.5,147.0 L125.0,145.0 L135.0,143.5 L147.0,143.5 L160.8,145.3 L175.0,149.2 L187.7,154.4 L198.0,158.8 L208.0,163.5 L214.0,166.5" fill="none" stroke="#fff" stroke-opacity="0.11" stroke-width="1" stroke-linejoin="round" clip-path="url(#cl)"/>
<path d="M313.8,183.0 L315.8,177.0 L318.4,170.0 L321.8,164.5 L325.2,160.8 L329.8,157.0 L335.8,153.0 L342.8,149.8 L351.3,147.0 L359.8,145.0 L369.8,143.5 L381.8,143.5 L395.6,145.3 L409.8,149.2 L422.5,154.4 L432.8,158.8 L442.8,163.5 L448.8,166.5" fill="none" stroke="#fff" stroke-opacity="0.08" stroke-width="1" stroke-linejoin="round" clip-path="url(#cr)"/>
<filter id="soft" x="-5%" y="-5%" width="110%" height="110%"><feGaussianBlur stdDeviation="0.35"/></filter>
<g filter="url(#soft)" clip-path="url(#cr)">
<line x1="372.50" y1="116.70" x2="450.65" y2="116.70" stroke="#141414" stroke-width="1.2" />
<line x1="372.47" y1="116.20" x2="450.00" y2="106.40" stroke="#141414" stroke-width="1.2" />
<line x1="372.37" y1="115.71" x2="448.07" y2="96.27" stroke="#141414" stroke-width="1.2" />
<line x1="372.22" y1="115.23" x2="444.88" y2="86.46" stroke="#141414" stroke-width="1.2" />
<line x1="372.01" y1="114.77" x2="440.49" y2="77.12" stroke="#141414" stroke-width="1.2" />
<line x1="371.74" y1="114.35" x2="434.96" y2="68.41" stroke="#141414" stroke-width="1.2" />
<line x1="371.42" y1="113.96" x2="428.38" y2="60.46" stroke="#141414" stroke-width="1.2" />
<line x1="371.05" y1="113.62" x2="420.86" y2="53.40" stroke="#141414" stroke-width="1.2" />
<line x1="370.64" y1="113.32" x2="412.52" y2="47.34" stroke="#141414" stroke-width="1.2" />
<line x1="370.20" y1="113.08" x2="403.48" y2="42.37" stroke="#141414" stroke-width="1.2" />
<line x1="369.74" y1="112.90" x2="393.89" y2="38.57" stroke="#141414" stroke-width="1.2" />
<line x1="369.25" y1="112.77" x2="383.89" y2="36.01" stroke="#141414" stroke-width="1.2" />
<line x1="368.75" y1="112.71" x2="373.66" y2="34.71" stroke="#141414" stroke-width="1.2" />
<line x1="368.25" y1="112.71" x2="363.34" y2="34.71" stroke="#141414" stroke-width="1.2" />
<line x1="367.75" y1="112.77" x2="353.11" y2="36.01" stroke="#141414" stroke-width="1.2" />
<line x1="367.26" y1="112.90" x2="343.11" y2="38.57" stroke="#141414" stroke-width="1.2" />
<line x1="366.80" y1="113.08" x2="333.52" y2="42.37" stroke="#141414" stroke-width="1.2" />
<line x1="366.36" y1="113.32" x2="324.48" y2="47.34" stroke="#141414" stroke-width="1.2" />
<line x1="365.95" y1="113.62" x2="316.14" y2="53.40" stroke="#141414" stroke-width="1.2" />
<line x1="365.58" y1="113.96" x2="308.62" y2="60.46" stroke="#141414" stroke-width="1.2" />
<line x1="365.26" y1="114.35" x2="302.04" y2="68.41" stroke="#141414" stroke-width="1.2" />
<line x1="364.99" y1="114.77" x2="296.51" y2="77.12" stroke="#141414" stroke-width="1.2" />
<line x1="364.78" y1="115.23" x2="292.12" y2="86.46" stroke="#141414" stroke-width="1.2" />
<line x1="364.63" y1="115.71" x2="288.93" y2="96.27" stroke="#141414" stroke-width="1.2" />
<line x1="364.53" y1="116.20" x2="287.00" y2="106.40" stroke="#141414" stroke-width="1.2" />
<line x1="364.50" y1="116.70" x2="286.35" y2="116.70" stroke="#141414" stroke-width="1.2" />
<line x1="364.53" y1="117.20" x2="287.00" y2="127.00" stroke="#141414" stroke-width="1.2" />
<line x1="364.63" y1="117.69" x2="288.93" y2="137.13" stroke="#141414" stroke-width="1.2" />
<line x1="364.78" y1="118.17" x2="292.12" y2="146.94" stroke="#141414" stroke-width="1.2" />
<line x1="364.99" y1="118.63" x2="296.51" y2="156.28" stroke="#141414" stroke-width="1.2" />
<line x1="365.26" y1="119.05" x2="302.04" y2="164.99" stroke="#141414" stroke-width="1.2" />
<line x1="365.58" y1="119.44" x2="308.62" y2="172.94" stroke="#141414" stroke-width="1.2" />
<line x1="365.95" y1="119.78" x2="316.14" y2="180.00" stroke="#141414" stroke-width="1.2" />
<line x1="366.36" y1="120.08" x2="324.48" y2="186.06" stroke="#141414" stroke-width="1.2" />
<line x1="366.80" y1="120.32" x2="333.52" y2="191.03" stroke="#141414" stroke-width="1.2" />
<line x1="367.26" y1="120.50" x2="343.11" y2="194.83" stroke="#141414" stroke-width="1.2" />
<line x1="367.75" y1="120.63" x2="353.11" y2="197.39" stroke="#141414" stroke-width="1.2" />
<line x1="368.25" y1="120.69" x2="363.34" y2="198.69" stroke="#141414" stroke-width="1.2" />
<line x1="368.75" y1="120.69" x2="373.66" y2="198.69" stroke="#141414" stroke-width="1.2" />
<line x1="369.25" y1="120.63" x2="383.89" y2="197.39" stroke="#141414" stroke-width="1.2" />
<line x1="369.74" y1="120.50" x2="393.89" y2="194.83" stroke="#141414" stroke-width="1.2" />
<line x1="370.20" y1="120.32" x2="403.48" y2="191.03" stroke="#141414" stroke-width="1.2" />
<line x1="370.64" y1="120.08" x2="412.52" y2="186.06" stroke="#141414" stroke-width="1.2" />
<line x1="371.05" y1="119.78" x2="420.86" y2="180.00" stroke="#141414" stroke-width="1.2" />
<line x1="371.42" y1="119.44" x2="428.38" y2="172.94" stroke="#141414" stroke-width="1.2" />
<line x1="371.74" y1="119.05" x2="434.96" y2="164.99" stroke="#141414" stroke-width="1.2" />
<line x1="372.01" y1="118.63" x2="440.49" y2="156.28" stroke="#141414" stroke-width="1.2" />
<line x1="372.22" y1="118.17" x2="444.88" y2="146.94" stroke="#141414" stroke-width="1.2" />
<line x1="372.37" y1="117.69" x2="448.07" y2="137.13" stroke="#141414" stroke-width="1.2" />
<line x1="372.47" y1="117.20" x2="450.00" y2="127.00" stroke="#141414" stroke-width="1.2" />
</g>
<path d="M329.8,193.0 L331.8,187.0 L334.4,182.3 L337.3,178.0 L340.6,174.6 L345.8,171.2 L351.3,169.2 L357.8,168.2 L364.8,168.2 L372.8,169.6 L378.8,172.0 L382.6,175.0 L385.6,180.0 L387.3,186.0 L387.8,190.0" fill="none" stroke="#fff" stroke-opacity="0.13" stroke-width="1" stroke-linejoin="round" clip-path="url(#cr)"/>
<defs><radialGradient id="halo"><stop offset="0" stop-color="#000"/><stop offset="0.42" stop-color="#000"/><stop offset="0.56" stop-color="#050a0c" stop-opacity="0.75"/><stop offset="0.75" stop-color="#0a1a20" stop-opacity="0.35"/><stop offset="1" stop-color="#0a1a20" stop-opacity="0"/></radialGradient></defs>
<circle cx="368.5" cy="116.7" r="15" fill="url(#halo)"/>
<defs><linearGradient id="cb" x1="0" y1="1" x2="0" y2="0"><stop offset="0.00" stop-color="#440154"/><stop offset="0.05" stop-color="#471365"/><stop offset="0.10" stop-color="#482475"/><stop offset="0.15" stop-color="#463480"/><stop offset="0.20" stop-color="#414487"/><stop offset="0.25" stop-color="#3b528b"/><stop offset="0.30" stop-color="#355f8d"/><stop offset="0.35" stop-color="#2f6c8e"/><stop offset="0.40" stop-color="#2a788e"/><stop offset="0.45" stop-color="#25848e"/><stop offset="0.50" stop-color="#21908d"/><stop offset="0.55" stop-color="#1e9c89"/><stop offset="0.60" stop-color="#22a884"/><stop offset="0.65" stop-color="#2fb47c"/><stop offset="0.70" stop-color="#44bf70"/><stop offset="0.75" stop-color="#5ec962"/><stop offset="0.80" stop-color="#7ad151"/><stop offset="0.85" stop-color="#9bd93c"/><stop offset="0.90" stop-color="#bddf26"/><stop offset="0.95" stop-color="#dfe318"/><stop offset="1.00" stop-color="#fde725"/></linearGradient></defs>
<rect x="470.0" y="30.5" width="8.5" height="173.0" fill="url(#cb)" stroke="#333" stroke-width="0.8"/>
<line x1="473.50" y1="34.00" x2="478.50" y2="34.00" stroke="#222" stroke-width="0.9" />
<text transform="translate(483.50,37.50) scale(1.02,1)" font-family='"Liberation Sans",Arial,sans-serif' font-size="10" text-anchor="start" fill="#333" stroke="#333" stroke-width="0.3" >3.39</text>
<line x1="473.50" y1="52.90" x2="478.50" y2="52.90" stroke="#222" stroke-width="0.9" />
<text transform="translate(483.50,56.40) scale(1.02,1)" font-family='"Liberation Sans",Arial,sans-serif' font-size="10" text-anchor="start" fill="#333" stroke="#333" stroke-width="0.3" >3.09</text>
<line x1="473.50" y1="71.80" x2="478.50" y2="71.80" stroke="#222" stroke-width="0.9" />
<text transform="translate(483.50,75.30) scale(1.02,1)" font-family='"Liberation Sans",Arial,sans-serif' font-size="10" text-anchor="start" fill="#333" stroke="#333" stroke-width="0.3" >2.79</text>
<line x1="473.50" y1="90.70" x2="478.50" y2="90.70" stroke="#222" stroke-width="0.9" />
<text transform="translate(483.50,94.20) scale(1.02,1)" font-family='"Liberation Sans",Arial,sans-serif' font-size="10" text-anchor="start" fill="#333" stroke="#333" stroke-width="0.3" >2.49</text>
<line x1="473.50" y1="109.60" x2="478.50" y2="109.60" stroke="#222" stroke-width="0.9" />
<text transform="translate(483.50,113.10) scale(1.02,1)" font-family='"Liberation Sans",Arial,sans-serif' font-size="10" text-anchor="start" fill="#333" stroke="#333" stroke-width="0.3" >2.19</text>
<line x1="473.50" y1="128.50" x2="478.50" y2="128.50" stroke="#222" stroke-width="0.9" />
<text transform="translate(483.50,132.00) scale(1.02,1)" font-family='"Liberation Sans",Arial,sans-serif' font-size="10" text-anchor="start" fill="#333" stroke="#333" stroke-width="0.3" >1.89</text>
<line x1="473.50" y1="147.40" x2="478.50" y2="147.40" stroke="#222" stroke-width="0.9" />
<text transform="translate(483.50,150.90) scale(1.02,1)" font-family='"Liberation Sans",Arial,sans-serif' font-size="10" text-anchor="start" fill="#333" stroke="#333" stroke-width="0.3" >1.59</text>
<line x1="473.50" y1="166.30" x2="478.50" y2="166.30" stroke="#222" stroke-width="0.9" />
<text transform="translate(483.50,169.80) scale(1.02,1)" font-family='"Liberation Sans",Arial,sans-serif' font-size="10" text-anchor="start" fill="#333" stroke="#333" stroke-width="0.3" >1.29</text>
<line x1="473.50" y1="185.20" x2="478.50" y2="185.20" stroke="#222" stroke-width="0.9" />
<text transform="translate(483.50,188.70) scale(1.02,1)" font-family='"Liberation Sans",Arial,sans-serif' font-size="10" text-anchor="start" fill="#333" stroke="#333" stroke-width="0.3" >0.99</text>
<line x1="473.50" y1="204.10" x2="478.50" y2="204.10" stroke="#222" stroke-width="0.9" />
<text transform="translate(483.50,207.60) scale(1.02,1)" font-family='"Liberation Sans",Arial,sans-serif' font-size="10" text-anchor="start" fill="#333" stroke="#333" stroke-width="0.3" >0.69</text>
<text transform="translate(515.30,117.50) rotate(-90)" font-family='"Liberation Sans",Arial,sans-serif' font-size="12.2" text-anchor="middle" fill="#222" stroke="#222" stroke-width="0.3" >Growth rate [nm/min]</text>
<text transform="translate(234.40,16.60)" font-family='"DejaVu Sans",sans-serif' font-size="18.5" text-anchor="middle" fill="#1a1a1a" stroke="#1a1a1a" stroke-width="0.3" >Raw simulation results</text>
<polygon points="234.2,239.5 249.5,239.5 249.5,273.0 260.8,273.0 241.85,305.7 222.9,273.0 234.2,273.0" fill="#2a7e8f"/>
<polygon points="234.2,553.5 249.5,553.5 249.5,599.2 260.8,599.2 241.85,631.8 222.9,599.2 234.2,599.2" fill="#2a7e8f"/>
<text transform="translate(272.00,266.50)" font-family='"DejaVu Sans",sans-serif' font-size="18.45" text-anchor="start" fill="#1a1a1a" stroke="#1a1a1a" stroke-width="0.3" >Extraction of growth</text>
<text transform="translate(272.00,291.20)" font-family='"DejaVu Sans",sans-serif' font-size="18.45" text-anchor="start" fill="#1a1a1a" stroke="#1a1a1a" stroke-width="0.3" >rates along line probes</text>
<text transform="translate(274.40,586.30)" font-family='"DejaVu Sans",sans-serif' font-size="18.45" text-anchor="start" fill="#1a1a1a" stroke="#1a1a1a" stroke-width="0.3" >Averaging of all</text>
<text transform="translate(273.80,610.60)" font-family='"DejaVu Sans",sans-serif' font-size="18.45" text-anchor="start" fill="#1a1a1a" stroke="#1a1a1a" stroke-width="0.3" >growth rate curves</text>
<clipPath id="mclip"><rect x="111.7" y="316.2" width="304.1" height="170.0"/></clipPath>
<filter id="soft2" x="-2%" y="-5%" width="104%" height="110%"><feGaussianBlur stdDeviation="0.3"/></filter>
<g clip-path="url(#mclip)"><g filter="url(#soft2)" fill="none" stroke-width="2.0" stroke-opacity="0.88" stroke-linejoin="round">
<path d="M125.8,416.8 L132.9,414.7 L140.0,412.6 L147.1,410.6 L154.2,408.8 L161.3,407.0 L168.4,405.4 L175.5,403.8 L182.6,402.3 L189.7,401.0 L196.8,399.7 L203.9,398.5 L211.0,397.4 L218.1,396.4 L225.2,395.4 L232.3,394.5 L239.4,393.7 L246.5,393.0 L253.6,392.3 L260.6,391.7 L267.7,391.1 L274.8,390.6 L281.9,390.1 L289.0,389.7 L296.1,389.4 L303.2,389.1 L310.3,388.8 L317.4,388.6 L324.5,388.4 L331.6,388.2 L338.7,388.1 L345.8,388.0 L352.9,387.9 L360.0,387.8 L367.1,387.8 L374.2,387.8 L381.3,387.7 L388.4,387.7 L395.5,387.7 L402.6,387.7" stroke="#0173b2"/>
<path d="M125.8,416.9 L132.9,415.0 L140.0,413.2 L147.1,411.5 L154.2,409.8 L161.3,408.3 L168.4,406.8 L175.5,405.4 L182.6,404.2 L189.7,402.9 L196.8,401.8 L203.9,400.8 L211.0,399.8 L218.1,398.9 L225.2,398.0 L232.3,397.2 L239.4,396.5 L246.5,395.9 L253.6,395.3 L260.6,394.7 L267.7,394.2 L274.8,393.8 L281.9,393.4 L289.0,393.0 L296.1,392.7 L303.2,392.5 L310.3,392.2 L317.4,392.0 L324.5,391.8 L331.6,391.7 L338.7,391.6 L345.8,391.5 L352.9,391.4 L360.0,391.4 L367.1,391.3 L374.2,391.3 L381.3,391.3 L388.4,391.3 L395.5,391.3 L402.6,391.3" stroke="#de8f05"/>
<path d="M125.8,417.0 L132.9,415.4 L140.0,413.8 L147.1,412.3 L154.2,410.9 L161.3,409.5 L168.4,408.3 L175.5,407.1 L182.6,406.0 L189.7,404.9 L196.8,403.9 L203.9,403.0 L211.0,402.2 L218.1,401.4 L225.2,400.7 L232.3,400.0 L239.4,399.4 L246.5,398.8 L253.6,398.3 L260.6,397.8 L267.7,397.4 L274.8,397.0 L281.9,396.6 L289.0,396.3 L296.1,396.1 L303.2,395.8 L310.3,395.6 L317.4,395.4 L324.5,395.3 L331.6,395.2 L338.7,395.1 L345.8,395.0 L352.9,394.9 L360.0,394.9 L367.1,394.8 L374.2,394.8 L381.3,394.8 L388.4,394.8 L395.5,394.8 L402.6,394.8" stroke="#029e73"/>
<path d="M125.8,417.1 L132.9,415.7 L140.0,414.4 L147.1,413.1 L154.2,411.9 L161.3,410.8 L168.4,409.7 L175.5,408.7 L182.6,407.8 L189.7,406.9 L196.8,406.1 L203.9,405.3 L211.0,404.6 L218.1,403.9 L225.2,403.3 L232.3,402.7 L239.4,402.2 L246.5,401.7 L253.6,401.3 L260.6,400.9 L267.7,400.5 L274.8,400.2 L281.9,399.9 L289.0,399.6 L296.1,399.4 L303.2,399.2 L310.3,399.0 L317.4,398.9 L324.5,398.7 L331.6,398.6 L338.7,398.6 L345.8,398.5 L352.9,398.4 L360.0,398.4 L367.1,398.4 L374.2,398.3 L381.3,398.3 L388.4,398.3 L395.5,398.3 L402.6,398.3" stroke="#d55e00"/>
<path d="M125.8,417.2 L132.9,416.0 L140.0,414.9 L147.1,413.8 L154.2,412.8 L161.3,411.8 L168.4,410.9 L175.5,410.1 L182.6,409.3 L189.7,408.5 L196.8,407.8 L203.9,407.2 L211.0,406.6 L218.1,406.0 L225.2,405.5 L232.3,405.0 L239.4,404.5 L246.5,404.1 L253.6,403.8 L260.6,403.4 L267.7,403.1 L274.8,402.8 L281.9,402.6 L289.0,402.4 L296.1,402.2 L303.2,402.0 L310.3,401.9 L317.4,401.7 L324.5,401.6 L331.6,401.5 L338.7,401.5 L345.8,401.4 L352.9,401.4 L360.0,401.3 L367.1,401.3 L374.2,401.3 L381.3,401.3 L388.4,401.3 L395.5,401.3 L402.6,401.3" stroke="#cc78bc"/>
<path d="M125.8,417.3 L132.9,416.3 L140.0,415.4 L147.1,414.5 L154.2,413.7 L161.3,412.9 L168.4,412.1 L175.5,411.4 L182.6,410.8 L189.7,410.2 L196.8,409.6 L203.9,409.1 L211.0,408.6 L218.1,408.1 L225.2,407.7 L232.3,407.3 L239.4,406.9 L246.5,406.6 L253.6,406.2 L260.6,406.0 L267.7,405.7 L274.8,405.5 L281.9,405.3 L289.0,405.1 L296.1,404.9 L303.2,404.8 L310.3,404.7 L317.4,404.6 L324.5,404.5 L331.6,404.4 L338.7,404.4 L345.8,404.3 L352.9,404.3 L360.0,404.2 L367.1,404.2 L374.2,404.2 L381.3,404.2 L388.4,404.2 L395.5,404.2 L402.6,404.2" stroke="#ca9161"/>
<path d="M125.8,417.4 L132.9,416.6 L140.0,415.8 L147.1,415.1 L154.2,414.4 L161.3,413.7 L168.4,413.1 L175.5,412.5 L182.6,412.0 L189.7,411.5 L196.8,411.0 L203.9,410.6 L211.0,410.1 L218.1,409.8 L225.2,409.4 L232.3,409.1 L239.4,408.8 L246.5,408.5 L253.6,408.2 L260.6,408.0 L267.7,407.8 L274.8,407.6 L281.9,407.4 L289.0,407.3 L296.1,407.2 L303.2,407.1 L310.3,407.0 L317.4,406.9 L324.5,406.8 L331.6,406.7 L338.7,406.7 L345.8,406.6 L352.9,406.6 L360.0,406.6 L367.1,406.6 L374.2,406.6 L381.3,406.6 L388.4,406.6 L395.5,406.6 L402.6,406.6" stroke="#fbafe4"/>
<path d="M125.8,417.5 L132.9,416.8 L140.0,416.2 L147.1,415.6 L154.2,415.1 L161.3,414.6 L168.4,414.1 L175.5,413.6 L182.6,413.2 L189.7,412.8 L196.8,412.4 L203.9,412.1 L211.0,411.7 L218.1,411.4 L225.2,411.2 L232.3,410.9 L239.4,410.7 L246.5,410.4 L253.6,410.2 L260.6,410.1 L267.7,409.9 L274.8,409.7 L281.9,409.6 L289.0,409.5 L296.1,409.4 L303.2,409.3 L310.3,409.2 L317.4,409.2 L324.5,409.1 L331.6,409.0 L338.7,409.0 L345.8,409.0 L352.9,409.0 L360.0,408.9 L367.1,408.9 L374.2,408.9 L381.3,408.9 L388.4,408.9 L395.5,408.9 L402.6,408.9" stroke="#949494"/>
<path d="M125.8,417.5 L132.9,417.1 L140.0,416.7 L147.1,416.3 L154.2,416.0 L161.3,415.6 L168.4,415.3 L175.5,415.0 L182.6,414.7 L189.7,414.4 L196.8,414.2 L203.9,414.0 L211.0,413.7 L218.1,413.5 L225.2,413.3 L232.3,413.2 L239.4,413.0 L246.5,412.9 L253.6,412.7 L260.6,412.6 L267.7,412.5 L274.8,412.4 L281.9,412.3 L289.0,412.2 L296.1,412.2 L303.2,412.1 L310.3,412.1 L317.4,412.0 L324.5,412.0 L331.6,411.9 L338.7,411.9 L345.8,411.9 L352.9,411.9 L360.0,411.9 L367.1,411.9 L374.2,411.9 L381.3,411.8 L388.4,411.8 L395.5,411.8 L402.6,411.8" stroke="#ece133"/>
<path d="M125.8,417.7 L132.9,417.5 L140.0,417.3 L147.1,417.2 L154.2,417.0 L161.3,416.9 L168.4,416.8 L175.5,416.6 L182.6,416.5 L189.7,416.4 L196.8,416.3 L203.9,416.2 L211.0,416.1 L218.1,416.0 L225.2,416.0 L232.3,415.9 L239.4,415.8 L246.5,415.8 L253.6,415.7 L260.6,415.7 L267.7,415.6 L274.8,415.6 L281.9,415.6 L289.0,415.5 L296.1,415.5 L303.2,415.5 L310.3,415.5 L317.4,415.4 L324.5,415.4 L331.6,415.4 L338.7,415.4 L345.8,415.4 L352.9,415.4 L360.0,415.4 L367.1,415.4 L374.2,415.4 L381.3,415.4 L388.4,415.4 L395.5,415.4 L402.6,415.4" stroke="#56b4e9"/>
<path d="M125.8,417.8 L132.9,417.8 L140.0,417.9 L147.1,418.0 L154.2,418.1 L161.3,418.1 L168.4,418.2 L175.5,418.3 L182.6,418.3 L189.7,418.4 L196.8,418.4 L203.9,418.5 L211.0,418.5 L218.1,418.6 L225.2,418.6 L232.3,418.6 L239.4,418.7 L246.5,418.7 L253.6,418.7 L260.6,418.7 L267.7,418.8 L274.8,418.8 L281.9,418.8 L289.0,418.8 L296.1,418.8 L303.2,418.8 L310.3,418.9 L317.4,418.9 L324.5,418.9 L331.6,418.9 L338.7,418.9 L345.8,418.9 L352.9,418.9 L360.0,418.9 L367.1,418.9 L374.2,418.9 L381.3,418.9 L388.4,418.9 L395.5,418.9 L402.6,418.9" stroke="#0173b2"/>
<path d="M125.8,417.9 L132.9,418.4 L140.0,418.9 L147.1,419.4 L154.2,419.8 L161.3,420.2 L168.4,420.6 L175.5,421.0 L182.6,421.3 L189.7,421.7 L196.8,422.0 L203.9,422.2 L211.0,422.5 L218.1,422.8 L225.2,423.0 L232.3,423.2 L239.4,423.4 L246.5,423.6 L253.6,423.7 L260.6,423.9 L267.7,424.0 L274.8,424.1 L281.9,424.2 L289.0,424.3 L296.1,424.4 L303.2,424.5 L310.3,424.5 L317.4,424.6 L324.5,424.6 L331.6,424.7 L338.7,424.7 L345.8,424.7 L352.9,424.7 L360.0,424.8 L367.1,424.8 L374.2,424.8 L381.3,424.8 L388.4,424.8 L395.5,424.8 L402.6,424.8" stroke="#de8f05"/>
<path d="M125.8,418.1 L132.9,419.0 L140.0,419.9 L147.1,420.8 L154.2,421.6 L161.3,422.3 L168.4,423.1 L175.5,423.7 L182.6,424.4 L189.7,424.9 L196.8,425.5 L203.9,426.0 L211.0,426.5 L218.1,426.9 L225.2,427.4 L232.3,427.7 L239.4,428.1 L246.5,428.4 L253.6,428.7 L260.6,429.0 L267.7,429.2 L274.8,429.4 L281.9,429.6 L289.0,429.8 L296.1,429.9 L303.2,430.1 L310.3,430.2 L317.4,430.3 L324.5,430.4 L331.6,430.4 L338.7,430.5 L345.8,430.6 L352.9,430.6 L360.0,430.6 L367.1,430.6 L374.2,430.6 L381.3,430.7 L388.4,430.7 L395.5,430.7 L402.6,430.7" stroke="#029e73"/>
<path d="M125.8,418.3 L132.9,419.6 L140.0,420.8 L147.1,422.0 L154.2,423.2 L161.3,424.2 L168.4,425.2 L175.5,426.2 L182.6,427.1 L189.7,427.9 L196.8,428.7 L203.9,429.4 L211.0,430.1 L218.1,430.7 L225.2,431.3 L232.3,431.8 L239.4,432.3 L246.5,432.8 L253.6,433.2 L260.6,433.6 L267.7,433.9 L274.8,434.2 L281.9,434.5 L289.0,434.7 L296.1,434.9 L303.2,435.1 L310.3,435.3 L317.4,435.4 L324.5,435.6 L331.6,435.7 L338.7,435.7 L345.8,435.8 L352.9,435.8 L360.0,435.9 L367.1,435.9 L374.2,435.9 L381.3,435.9 L388.4,435.9 L395.5,436.0 L402.6,436.0" stroke="#d55e00"/>
<path d="M125.8,418.5 L132.9,420.4 L140.0,422.2 L147.1,423.9 L154.2,425.5 L161.3,427.0 L168.4,428.4 L175.5,429.7 L182.6,431.0 L189.7,432.2 L196.8,433.3 L203.9,434.3 L211.0,435.3 L218.1,436.2 L225.2,437.0 L232.3,437.7 L239.4,438.4 L246.5,439.1 L253.6,439.7 L260.6,440.2 L267.7,440.7 L274.8,441.1 L281.9,441.5 L289.0,441.9 L296.1,442.2 L303.2,442.4 L310.3,442.7 L317.4,442.9 L324.5,443.0 L331.6,443.2 L338.7,443.3 L345.8,443.4 L352.9,443.5 L360.0,443.5 L367.1,443.5 L374.2,443.6 L381.3,443.6 L388.4,443.6 L395.5,443.6 L402.6,443.6" stroke="#cc78bc"/>
<path d="M125.8,418.7 L132.9,421.0 L140.0,423.3 L147.1,425.4 L154.2,427.4 L161.3,429.3 L168.4,431.1 L175.5,432.7 L182.6,434.3 L189.7,435.8 L196.8,437.2 L203.9,438.5 L211.0,439.7 L218.1,440.8 L225.2,441.8 L232.3,442.8 L239.4,443.6 L246.5,444.4 L253.6,445.2 L260.6,445.8 L267.7,446.4 L274.8,447.0 L281.9,447.5 L289.0,447.9 L296.1,448.3 L303.2,448.6 L310.3,448.9 L317.4,449.1 L324.5,449.4 L331.6,449.5 L338.7,449.7 L345.8,449.8 L352.9,449.9 L360.0,449.9 L367.1,450.0 L374.2,450.0 L381.3,450.0 L388.4,450.1 L395.5,450.1 L402.6,450.1" stroke="#ca9161"/>
<path d="M125.8,418.9 L132.9,421.7 L140.0,424.4 L147.1,426.9 L154.2,429.3 L161.3,431.6 L168.4,433.7 L175.5,435.7 L182.6,437.6 L189.7,439.4 L196.8,441.1 L203.9,442.6 L211.0,444.0 L218.1,445.4 L225.2,446.6 L232.3,447.8 L239.4,448.8 L246.5,449.8 L253.6,450.7 L260.6,451.5 L267.7,452.2 L274.8,452.8 L281.9,453.4 L289.0,453.9 L296.1,454.4 L303.2,454.8 L310.3,455.1 L317.4,455.4 L324.5,455.7 L331.6,455.9 L338.7,456.1 L345.8,456.2 L352.9,456.3 L360.0,456.4 L367.1,456.5 L374.2,456.5 L381.3,456.5 L388.4,456.5 L395.5,456.5 L402.6,456.5" stroke="#fbafe4"/>
<path d="M125.8,419.0 L132.9,422.2 L140.0,425.2 L147.1,428.0 L154.2,430.7 L161.3,433.3 L168.4,435.7 L175.5,437.9 L182.6,440.0 L189.7,442.0 L196.8,443.9 L203.9,445.6 L211.0,447.2 L218.1,448.7 L225.2,450.1 L232.3,451.4 L239.4,452.6 L246.5,453.7 L253.6,454.6 L260.6,455.5 L267.7,456.4 L274.8,457.1 L281.9,457.7 L289.0,458.3 L296.1,458.8 L303.2,459.3 L310.3,459.7 L317.4,460.0 L324.5,460.3 L331.6,460.5 L338.7,460.7 L345.8,460.9 L352.9,461.0 L360.0,461.1 L367.1,461.1 L374.2,461.2 L381.3,461.2 L388.4,461.2 L395.5,461.2 L402.6,461.2" stroke="#949494"/>
<path d="M125.8,418.7 L132.9,421.0 L140.0,423.3 L147.1,425.5 L154.2,427.7 L161.3,429.8 L168.4,431.9 L175.5,433.9 L182.6,435.8 L189.7,437.7 L196.8,439.5 L203.9,441.3 L211.0,443.0 L218.1,444.6 L225.2,446.2 L232.3,447.7 L239.4,449.2 L246.5,450.6 L253.6,451.9 L260.6,453.2 L267.7,454.4 L274.8,455.6 L281.9,456.7 L289.0,457.7 L296.1,458.6 L303.2,459.5 L310.3,460.3 L317.4,461.1 L324.5,461.8 L331.6,462.4 L338.7,462.9 L345.8,463.4 L352.9,463.8 L360.0,464.2 L367.1,464.5 L374.2,464.7 L381.3,464.8 L388.4,464.9 L395.5,464.8 L402.6,464.8" stroke="#ece133"/>
<path d="M125.8,418.7 L132.9,421.3 L140.0,423.8 L147.1,426.2 L154.2,428.6 L161.3,430.9 L168.4,433.1 L175.5,435.3 L182.6,437.4 L189.7,439.4 L196.8,441.4 L203.9,443.3 L211.0,445.2 L218.1,447.0 L225.2,448.7 L232.3,450.4 L239.4,452.0 L246.5,453.5 L253.6,454.9 L260.6,456.3 L267.7,457.6 L274.8,458.9 L281.9,460.1 L289.0,461.2 L296.1,462.2 L303.2,463.2 L310.3,464.1 L317.4,464.9 L324.5,465.6 L331.6,466.3 L338.7,466.9 L345.8,467.4 L352.9,467.9 L360.0,468.3 L367.1,468.6 L374.2,468.8 L381.3,468.9 L388.4,469.0 L395.5,469.0 L402.6,468.9" stroke="#56b4e9"/>
<path d="M125.8,418.8 L132.9,421.5 L140.0,424.2 L147.1,426.8 L154.2,429.4 L161.3,431.9 L168.4,434.3 L175.5,436.7 L182.6,439.0 L189.7,441.3 L196.8,443.5 L203.9,445.6 L211.0,447.6 L218.1,449.6 L225.2,451.5 L232.3,453.4 L239.4,455.1 L246.5,456.8 L253.6,458.5 L260.6,460.0 L267.7,461.5 L274.8,462.8 L281.9,464.1 L289.0,465.3 L296.1,466.5 L303.2,467.5 L310.3,468.5 L317.4,469.3 L324.5,470.1 L331.6,470.8 L338.7,471.4 L345.8,471.9 L352.9,472.3 L360.0,472.6 L367.1,472.8 L374.2,473.0 L381.3,473.0 L388.4,472.9 L395.5,472.7 L402.6,472.4" stroke="#0173b2"/>
<path d="M125.8,418.9 L132.9,421.7 L140.0,424.5 L147.1,427.2 L154.2,429.9 L161.3,432.5 L168.4,435.1 L175.5,437.5 L182.6,440.0 L189.7,442.3 L196.8,444.6 L203.9,446.8 L211.0,448.9 L218.1,451.0 L225.2,453.0 L232.3,454.9 L239.4,456.8 L246.5,458.5 L253.6,460.2 L260.6,461.8 L267.7,463.3 L274.8,464.8 L281.9,466.1 L289.0,467.4 L296.1,468.6 L303.2,469.7 L310.3,470.7 L317.4,471.6 L324.5,472.4 L331.6,473.1 L338.7,473.7 L345.8,474.2 L352.9,474.7 L360.0,475.0 L367.1,475.2 L374.2,475.3 L381.3,475.4 L388.4,475.3 L395.5,475.1 L402.6,474.8" stroke="#de8f05"/>
<path d="M125.8,418.9 L132.9,421.9 L140.0,424.8 L147.1,427.6 L154.2,430.4 L161.3,433.1 L168.4,435.8 L175.5,438.4 L182.6,440.9 L189.7,443.3 L196.8,445.7 L203.9,448.0 L211.0,450.2 L218.1,452.4 L225.2,454.5 L232.3,456.5 L239.4,458.4 L246.5,460.2 L253.6,462.0 L260.6,463.6 L267.7,465.2 L274.8,466.7 L281.9,468.1 L289.0,469.4 L296.1,470.7 L303.2,471.8 L310.3,472.8 L317.4,473.8 L324.5,474.6 L331.6,475.4 L338.7,476.0 L345.8,476.6 L352.9,477.0 L360.0,477.4 L367.1,477.6 L374.2,477.7 L381.3,477.7 L388.4,477.6 L395.5,477.4 L402.6,477.1" stroke="#029e73"/>
<path d="M125.8,419.0 L132.9,422.0 L140.0,425.1 L147.1,428.0 L154.2,430.9 L161.3,433.7 L168.4,436.5 L175.5,439.2 L182.6,441.8 L189.7,444.3 L196.8,446.8 L203.9,449.2 L211.0,451.5 L218.1,453.7 L225.2,455.9 L232.3,458.0 L239.4,460.0 L246.5,461.9 L253.6,463.7 L260.6,465.4 L267.7,467.1 L274.8,468.7 L281.9,470.1 L289.0,471.5 L296.1,472.8 L303.2,473.9 L310.3,475.0 L317.4,476.0 L324.5,476.9 L331.6,477.7 L338.7,478.3 L345.8,478.9 L352.9,479.4 L360.0,479.7 L367.1,480.0 L374.2,480.1 L381.3,480.1 L388.4,480.0 L395.5,479.8 L402.6,479.5" stroke="#d55e00"/>
<path d="M125.8,419.2 L132.9,422.8 L140.0,426.4 L147.1,429.8 L154.2,433.0 L161.3,436.2 L168.4,439.2 L175.5,442.2 L182.6,444.9 L189.7,447.6 L196.8,450.2 L203.9,452.6 L211.0,454.9 L218.1,457.2 L225.2,459.3 L232.3,461.2 L239.4,463.1 L246.5,464.9 L253.6,466.5 L260.6,468.1 L267.7,469.5 L274.8,470.9 L281.9,472.1 L289.0,473.2 L296.1,474.3 L303.2,475.2 L310.3,476.1 L317.4,476.8 L324.5,477.5 L331.6,478.0 L338.7,478.5 L345.8,478.9 L352.9,479.2 L360.0,479.5 L367.1,479.6 L374.2,479.7 L381.3,479.7 L388.4,479.7 L395.5,479.6 L402.6,479.5" stroke="#cc78bc"/>
<path d="M125.8,419.2 L132.9,422.7 L140.0,426.1 L147.1,429.4 L154.2,432.6 L161.3,435.7 L168.4,438.6 L175.5,441.5 L182.6,444.2 L189.7,446.8 L196.8,449.3 L203.9,451.6 L211.0,453.9 L218.1,456.0 L225.2,458.1 L232.3,460.0 L239.4,461.8 L246.5,463.5 L253.6,465.1 L260.6,466.7 L267.7,468.1 L274.8,469.4 L281.9,470.6 L289.0,471.7 L296.1,472.7 L303.2,473.6 L310.3,474.4 L317.4,475.1 L324.5,475.8 L331.6,476.3 L338.7,476.8 L345.8,477.2 L352.9,477.5 L360.0,477.7 L367.1,477.9 L374.2,477.9 L381.3,478.0 L388.4,477.9 L395.5,477.8 L402.6,477.7" stroke="#ca9161"/>
<path d="M125.8,419.1 L132.9,422.5 L140.0,425.7 L147.1,428.9 L154.2,431.9 L161.3,434.8 L168.4,437.6 L175.5,440.3 L182.6,442.9 L189.7,445.3 L196.8,447.7 L203.9,450.0 L211.0,452.1 L218.1,454.2 L225.2,456.1 L232.3,457.9 L239.4,459.7 L246.5,461.3 L253.6,462.8 L260.6,464.3 L267.7,465.6 L274.8,466.8 L281.9,468.0 L289.0,469.0 L296.1,470.0 L303.2,470.8 L310.3,471.6 L317.4,472.3 L324.5,472.9 L331.6,473.4 L338.7,473.9 L345.8,474.3 L352.9,474.5 L360.0,474.8 L367.1,474.9 L374.2,475.0 L381.3,475.0 L388.4,475.0 L395.5,474.9 L402.6,474.8" stroke="#fbafe4"/>
<path d="M125.8,418.9 L132.9,422.0 L140.0,424.9 L147.1,427.7 L154.2,430.4 L161.3,433.0 L168.4,435.6 L175.5,438.0 L182.6,440.3 L189.7,442.5 L196.8,444.6 L203.9,446.6 L211.0,448.6 L218.1,450.4 L225.2,452.1 L232.3,453.8 L239.4,455.3 L246.5,456.8 L253.6,458.2 L260.6,459.5 L267.7,460.7 L274.8,461.8 L281.9,462.8 L289.0,463.7 L296.1,464.6 L303.2,465.4 L310.3,466.1 L317.4,466.7 L324.5,467.2 L331.6,467.7 L338.7,468.1 L345.8,468.4 L352.9,468.7 L360.0,468.9 L367.1,469.0 L374.2,469.1 L381.3,469.1 L388.4,469.1 L395.5,469.0 L402.6,468.9" stroke="#949494"/>
<path d="M125.8,418.5 L132.9,420.4 L140.0,422.3 L147.1,424.3 L154.2,426.2 L161.3,428.1 L168.4,430.0 L175.5,431.9 L182.6,433.8 L189.7,435.7 L196.8,437.5 L203.9,439.4 L211.0,441.3 L218.1,443.2 L225.2,445.2 L232.3,447.3 L239.4,449.4 L246.5,451.5 L253.6,453.5 L260.6,455.3 L267.7,456.8 L274.8,458.0 L281.9,458.9 L289.0,459.8 L296.1,460.6 L303.2,461.4 L310.3,462.0 L317.4,462.5 L324.5,462.9 L331.6,463.0 L338.7,462.9 L345.8,462.4 L352.9,461.7 L360.0,460.7 L367.1,459.6 L374.2,458.4 L381.3,456.7 L388.4,454.4 L395.5,451.5 L402.6,448.3" stroke="#ece133"/>
<path d="M125.8,418.3 L132.9,419.8 L140.0,421.4 L147.1,422.8 L154.2,424.3 L161.3,425.8 L168.4,427.2 L175.5,428.7 L182.6,430.1 L189.7,431.5 L196.8,432.9 L203.9,434.3 L211.0,435.7 L218.1,437.1 L225.2,438.6 L232.3,440.1 L239.4,441.7 L246.5,443.1 L253.6,444.3 L260.6,445.2 L267.7,445.8 L274.8,446.3 L281.9,446.9 L289.0,447.4 L296.1,447.8 L303.2,448.2 L310.3,448.5 L317.4,448.7 L324.5,448.9 L331.6,448.9 L338.7,448.3 L345.8,447.0 L352.9,445.2 L360.0,443.1 L367.1,440.8 L374.2,438.4 L381.3,435.8 L388.4,432.5 L395.5,428.8 L402.6,424.8" stroke="#56b4e9"/>
<path d="M125.8,418.1 L132.9,418.9 L140.0,419.7 L147.1,420.4 L154.2,421.2 L161.3,421.9 L168.4,422.6 L175.5,423.3 L182.6,424.0 L189.7,424.6 L196.8,425.2 L203.9,425.7 L211.0,426.2 L218.1,426.7 L225.2,427.3 L232.3,427.8 L239.4,428.3 L246.5,428.8 L253.6,429.3 L260.6,429.7 L267.7,430.1 L274.8,430.4 L281.9,430.6 L289.0,430.7 L296.1,430.6 L303.2,430.5 L310.3,430.3 L317.4,430.1 L324.5,429.8 L331.6,429.4 L338.7,428.1 L345.8,425.9 L352.9,423.0 L360.0,419.9 L367.1,416.7 L374.2,413.8 L381.3,410.9 L388.4,407.8 L395.5,404.6 L402.6,401.3" stroke="#0173b2"/>
<path d="M125.8,417.5 L132.9,417.1 L140.0,416.6 L147.1,416.2 L154.2,415.7 L161.3,415.2 L168.4,414.7 L175.5,414.2 L182.6,413.7 L189.7,413.2 L196.8,412.7 L203.9,412.1 L211.0,411.6 L218.1,411.0 L225.2,410.5 L232.3,409.9 L239.4,409.4 L246.5,408.8 L253.6,408.2 L260.6,407.6 L267.7,407.0 L274.8,406.4 L281.9,405.7 L289.0,405.1 L296.1,404.4 L303.2,403.7 L310.3,403.0 L317.4,402.3 L324.5,401.7 L331.6,401.0 L338.7,400.3 L345.8,399.4 L352.9,398.5 L360.0,397.3 L367.1,395.6 L374.2,393.2 L381.3,390.2 L388.4,386.8 L395.5,383.0 L402.6,378.9" stroke="#de8f05"/>
<path d="M125.8,417.5 L132.9,416.9 L140.0,416.3 L147.1,415.7 L154.2,415.0 L161.3,414.4 L168.4,413.7 L175.5,413.0 L182.6,412.3 L189.7,411.6 L196.8,410.9 L203.9,410.1 L211.0,409.4 L218.1,408.6 L225.2,407.9 L232.3,407.1 L239.4,406.4 L246.5,405.7 L253.6,404.9 L260.6,404.1 L267.7,403.2 L274.8,402.2 L281.9,401.1 L289.0,399.9 L296.1,398.5 L303.2,396.9 L310.3,395.2 L317.4,393.2 L324.5,391.1 L331.6,388.8 L338.7,386.3 L345.8,383.7 L352.9,380.9 L360.0,377.9 L367.1,374.9 L374.2,371.7 L381.3,368.4 L388.4,364.9 L395.5,361.4 L402.6,357.7" stroke="#029e73"/>
<path d="M125.8,417.5 L132.9,416.9 L140.0,416.3 L147.1,415.5 L154.2,414.6 L161.3,413.7 L168.4,412.7 L175.5,411.7 L182.6,410.6 L189.7,409.4 L196.8,408.2 L203.9,406.9 L211.0,405.4 L218.1,403.8 L225.2,402.1 L232.3,400.3 L239.4,398.5 L246.5,396.6 L253.6,394.7 L260.6,392.8 L267.7,390.8 L274.8,388.8 L281.9,386.7 L289.0,384.6 L296.1,382.4 L303.2,380.2 L310.3,378.0 L317.4,375.7 L324.5,373.3 L331.6,370.9 L338.7,368.5 L345.8,366.0 L352.9,363.5 L360.0,360.9 L367.1,358.2 L374.2,355.5 L381.3,352.8 L388.4,350.0 L395.5,347.1 L402.6,344.2" stroke="#d55e00"/>
<path d="M125.8,417.5 L132.9,416.9 L140.0,416.0 L147.1,415.0 L154.2,413.9 L161.3,412.6 L168.4,411.3 L175.5,409.8 L182.6,408.3 L189.7,406.7 L196.8,405.0 L203.9,403.0 L211.0,400.7 L218.1,398.1 L225.2,395.4 L232.3,392.7 L239.4,390.0 L246.5,387.4 L253.6,384.9 L260.6,382.5 L267.7,380.1 L274.8,377.6 L281.9,375.2 L289.0,372.8 L296.1,370.3 L303.2,367.9 L310.3,365.5 L317.4,363.0 L324.5,360.6 L331.6,358.2 L338.7,355.8 L345.8,353.4 L352.9,351.0 L360.0,348.6 L367.1,346.2 L374.2,343.8 L381.3,341.4 L388.4,339.0 L395.5,336.6 L402.6,334.2" stroke="#cc78bc"/>
<path d="M125.8,417.0 L132.9,415.2 L140.0,413.3 L147.1,411.5 L154.2,409.6 L161.3,407.7 L168.4,405.7 L175.5,403.8 L182.6,401.8 L189.7,399.8 L196.8,397.8 L203.9,395.7 L211.0,393.7 L218.1,391.6 L225.2,389.5 L232.3,387.4 L239.4,385.3 L246.5,383.1 L253.6,380.9 L260.6,378.7 L267.7,376.5 L274.8,374.2 L281.9,371.9 L289.0,369.5 L296.1,367.1 L303.2,364.7 L310.3,362.2 L317.4,359.8 L324.5,357.3 L331.6,354.7 L338.7,352.2 L345.8,349.6 L352.9,347.0 L360.0,344.3 L367.1,341.6 L374.2,338.9 L381.3,336.2 L388.4,333.4 L395.5,330.6 L402.6,327.8" stroke="#ca9161"/>
<path d="M125.8,417.0 L132.9,415.1 L140.0,413.1 L147.1,411.1 L154.2,409.1 L161.3,407.1 L168.4,405.1 L175.5,403.0 L182.6,400.9 L189.7,398.8 L196.8,396.7 L203.9,394.5 L211.0,392.3 L218.1,390.1 L225.2,387.9 L232.3,385.6 L239.4,383.4 L246.5,381.1 L253.6,378.7 L260.6,376.4 L267.7,374.0 L274.8,371.6 L281.9,369.2 L289.0,366.7 L296.1,364.2 L303.2,361.7 L310.3,359.2 L317.4,356.7 L324.5,354.1 L331.6,351.5 L338.7,348.9 L345.8,346.2 L352.9,343.6 L360.0,340.9 L367.1,338.2 L374.2,335.4 L381.3,332.7 L388.4,329.9 L395.5,327.1 L402.6,324.2" stroke="#fbafe4"/>
<path d="M125.8,417.0 L132.9,415.0 L140.0,413.0 L147.1,411.0 L154.2,408.9 L161.3,406.9 L168.4,404.8 L175.5,402.7 L182.6,400.5 L189.7,398.3 L196.8,396.2 L203.9,393.9 L211.0,391.7 L218.1,389.4 L225.2,387.1 L232.3,384.8 L239.4,382.5 L246.5,380.1 L253.6,377.7 L260.6,375.3 L267.7,372.9 L274.8,370.4 L281.9,367.9 L289.0,365.4 L296.1,362.9 L303.2,360.3 L310.3,357.7 L317.4,355.1 L324.5,352.5 L331.6,349.8 L338.7,347.2 L345.8,344.4 L352.9,341.7 L360.0,339.0 L367.1,336.2 L374.2,333.4 L381.3,330.5 L388.4,327.7 L395.5,324.8 L402.6,321.9" stroke="#949494"/>
<path d="M125.8,416.9 L132.9,415.0 L140.0,412.9 L147.1,410.9 L154.2,408.8 L161.3,406.7 L168.4,404.6 L175.5,402.5 L182.6,400.3 L189.7,398.1 L196.8,395.9 L203.9,393.7 L211.0,391.4 L218.1,389.1 L225.2,386.8 L232.3,384.4 L239.4,382.1 L246.5,379.7 L253.6,377.3 L260.6,374.8 L267.7,372.3 L274.8,369.8 L281.9,367.3 L289.0,364.8 L296.1,362.2 L303.2,359.6 L310.3,357.0 L317.4,354.4 L324.5,351.7 L331.6,349.0 L338.7,346.3 L345.8,343.5 L352.9,340.8 L360.0,338.0 L367.1,335.2 L374.2,332.3 L381.3,329.5 L388.4,326.6 L395.5,323.6 L402.6,320.7" stroke="#ece133"/>
<path d="M125.8,417.0 L132.9,415.0 L140.0,413.1 L147.1,411.1 L154.2,409.0 L161.3,407.0 L168.4,404.9 L175.5,402.8 L182.6,400.7 L189.7,398.6 L196.8,396.4 L203.9,394.2 L211.0,392.0 L218.1,389.8 L225.2,387.5 L232.3,385.2 L239.4,382.9 L246.5,380.6 L253.6,378.2 L260.6,375.9 L267.7,373.4 L274.8,371.0 L281.9,368.6 L289.0,366.1 L296.1,363.6 L303.2,361.0 L310.3,358.5 L317.4,355.9 L324.5,353.3 L331.6,350.7 L338.7,348.0 L345.8,345.3 L352.9,342.6 L360.0,339.9 L367.1,337.2 L374.2,334.4 L381.3,331.6 L388.4,328.8 L395.5,325.9 L402.6,323.1" stroke="#56b4e9"/>
<path d="M125.8,417.0 L132.9,415.1 L140.0,413.2 L147.1,411.2 L154.2,409.3 L161.3,407.3 L168.4,405.3 L175.5,403.2 L182.6,401.1 L189.7,399.1 L196.8,397.0 L203.9,394.8 L211.0,392.7 L218.1,390.5 L225.2,388.3 L232.3,386.0 L239.4,383.8 L246.5,381.5 L253.6,379.2 L260.6,376.9 L267.7,374.5 L274.8,372.2 L281.9,369.8 L289.0,367.4 L296.1,364.9 L303.2,362.4 L310.3,360.0 L317.4,357.4 L324.5,354.9 L331.6,352.3 L338.7,349.8 L345.8,347.1 L352.9,344.5 L360.0,341.9 L367.1,339.2 L374.2,336.5 L381.3,333.7 L388.4,331.0 L395.5,328.2 L402.6,325.4" stroke="#0173b2"/>
<path d="M125.8,417.0 L132.9,415.3 L140.0,413.5 L147.1,411.7 L154.2,409.9 L161.3,408.0 L168.4,406.1 L175.5,404.2 L182.6,402.3 L189.7,400.4 L196.8,398.4 L203.9,396.4 L211.0,394.4 L218.1,392.4 L225.2,390.3 L232.3,388.3 L239.4,386.2 L246.5,384.1 L253.6,381.9 L260.6,379.8 L267.7,377.6 L274.8,375.4 L281.9,373.1 L289.0,370.9 L296.1,368.6 L303.2,366.3 L310.3,364.0 L317.4,361.7 L324.5,359.3 L331.6,356.9 L338.7,354.5 L345.8,352.1 L352.9,349.6 L360.0,347.2 L367.1,344.7 L374.2,342.2 L381.3,339.6 L388.4,337.1 L395.5,334.5 L402.6,331.9" stroke="#de8f05"/>
<path d="M125.8,417.1 L132.9,415.4 L140.0,413.8 L147.1,412.1 L154.2,410.4 L161.3,408.7 L168.4,406.9 L175.5,405.2 L182.6,403.4 L189.7,401.6 L196.8,399.7 L203.9,397.9 L211.0,396.0 L218.1,394.1 L225.2,392.2 L232.3,390.3 L239.4,388.3 L246.5,386.4 L253.6,384.4 L260.6,382.4 L267.7,380.3 L274.8,378.3 L281.9,376.2 L289.0,374.1 L296.1,372.0 L303.2,369.8 L310.3,367.7 L317.4,365.5 L324.5,363.3 L331.6,361.1 L338.7,358.8 L345.8,356.6 L352.9,354.3 L360.0,352.0 L367.1,349.7 L374.2,347.3 L381.3,345.0 L388.4,342.6 L395.5,340.2 L402.6,337.8" stroke="#029e73"/>
<path d="M125.8,417.1 L132.9,415.6 L140.0,414.0 L147.1,412.4 L154.2,410.8 L161.3,409.2 L168.4,407.6 L175.5,405.9 L182.6,404.2 L189.7,402.5 L196.8,400.8 L203.9,399.0 L211.0,397.3 L218.1,395.5 L225.2,393.7 L232.3,391.9 L239.4,390.1 L246.5,388.2 L253.6,386.3 L260.6,384.4 L267.7,382.5 L274.8,380.6 L281.9,378.6 L289.0,376.7 L296.1,374.7 L303.2,372.7 L310.3,370.6 L317.4,368.6 L324.5,366.5 L331.6,364.4 L338.7,362.3 L345.8,360.2 L352.9,358.0 L360.0,355.9 L367.1,353.7 L374.2,351.5 L381.3,349.3 L388.4,347.0 L395.5,344.7 L402.6,342.5" stroke="#d55e00"/>
<path d="M125.8,416.7 L132.9,414.2 L140.0,411.7 L147.1,409.3 L154.2,407.0 L161.3,404.6 L168.4,402.4 L175.5,400.2 L182.6,398.0 L189.7,395.9 L196.8,393.8 L203.9,391.8 L211.0,389.8 L218.1,387.9 L225.2,386.0 L232.3,384.2 L239.4,382.4 L246.5,380.6 L253.6,379.0 L260.6,377.3 L267.7,375.7 L274.8,374.2 L281.9,372.7 L289.0,371.3 L296.1,369.9 L303.2,368.5 L310.3,367.2 L317.4,366.0 L324.5,364.8 L331.6,363.6 L338.7,362.5 L345.8,361.5 L352.9,360.5 L360.0,359.5 L367.1,358.6 L374.2,357.8 L381.3,356.9 L388.4,356.2 L395.5,355.5 L402.6,354.8" stroke="#cc78bc"/>
<path d="M125.8,416.9 L132.9,414.7 L140.0,412.6 L147.1,410.6 L154.2,408.6 L161.3,406.6 L168.4,404.7 L175.5,402.8 L182.6,400.9 L189.7,399.1 L196.8,397.4 L203.9,395.6 L211.0,394.0 L218.1,392.3 L225.2,390.7 L232.3,389.2 L239.4,387.7 L246.5,386.2 L253.6,384.7 L260.6,383.4 L267.7,382.0 L274.8,380.7 L281.9,379.4 L289.0,378.2 L296.1,377.0 L303.2,375.9 L310.3,374.8 L317.4,373.7 L324.5,372.7 L331.6,371.7 L338.7,370.8 L345.8,369.9 L352.9,369.0 L360.0,368.2 L367.1,367.4 L374.2,366.7 L381.3,366.0 L388.4,365.4 L395.5,364.8 L402.6,364.2" stroke="#ca9161"/>
<path d="M125.8,417.0 L132.9,415.2 L140.0,413.5 L147.1,411.8 L154.2,410.1 L161.3,408.4 L168.4,406.8 L175.5,405.2 L182.6,403.7 L189.7,402.2 L196.8,400.7 L203.9,399.3 L211.0,397.9 L218.1,396.5 L225.2,395.2 L232.3,393.9 L239.4,392.6 L246.5,391.4 L253.6,390.2 L260.6,389.0 L267.7,387.9 L274.8,386.8 L281.9,385.7 L289.0,384.7 L296.1,383.7 L303.2,382.8 L310.3,381.9 L317.4,381.0 L324.5,380.1 L331.6,379.3 L338.7,378.5 L345.8,377.8 L352.9,377.1 L360.0,376.4 L367.1,375.7 L374.2,375.1 L381.3,374.6 L388.4,374.0 L395.5,373.5 L402.6,373.0" stroke="#fbafe4"/>
<path d="M125.8,417.1 L132.9,415.7 L140.0,414.3 L147.1,412.9 L154.2,411.5 L161.3,410.1 L168.4,408.8 L175.5,407.5 L182.6,406.3 L189.7,405.1 L196.8,403.9 L203.9,402.7 L211.0,401.5 L218.1,400.4 L225.2,399.3 L232.3,398.3 L239.4,397.2 L246.5,396.2 L253.6,395.3 L260.6,394.3 L267.7,393.4 L274.8,392.5 L281.9,391.6 L289.0,390.8 L296.1,390.0 L303.2,389.2 L310.3,388.5 L317.4,387.7 L324.5,387.0 L331.6,386.4 L338.7,385.7 L345.8,385.1 L352.9,384.5 L360.0,384.0 L367.1,383.5 L374.2,383.0 L381.3,382.5 L388.4,382.1 L395.5,381.7 L402.6,381.3" stroke="#949494"/>
<path d="M125.8,416.7 L132.9,414.2 L140.0,411.9 L147.1,409.6 L154.2,407.5 L161.3,405.5 L168.4,403.7 L175.5,401.9 L182.6,400.2 L189.7,398.7 L196.8,397.2 L203.9,395.9 L211.0,394.6 L218.1,393.4 L225.2,392.3 L232.3,391.3 L239.4,390.4 L246.5,389.6 L253.6,388.8 L260.6,388.1 L267.7,387.4 L274.8,386.9 L281.9,386.4 L289.0,385.9 L296.1,385.5 L303.2,385.2 L310.3,384.8 L317.4,384.6 L324.5,384.4 L331.6,384.2 L338.7,384.0 L345.8,383.9 L352.9,383.8 L360.0,383.7 L367.1,383.7 L374.2,383.7 L381.3,383.6 L388.4,383.6 L395.5,383.6 L402.6,383.6" stroke="#ece133"/>
<path d="M125.8,416.8 L132.9,414.4 L140.0,412.2 L147.1,410.1 L154.2,408.1 L161.3,406.2 L168.4,404.4 L175.5,402.7 L182.6,401.1 L189.7,399.7 L196.8,398.3 L203.9,397.0 L211.0,395.8 L218.1,394.7 L225.2,393.6 L232.3,392.7 L239.4,391.8 L246.5,391.0 L253.6,390.3 L260.6,389.6 L267.7,389.0 L274.8,388.5 L281.9,388.0 L289.0,387.6 L296.1,387.2 L303.2,386.8 L310.3,386.5 L317.4,386.3 L324.5,386.1 L331.6,385.9 L338.7,385.8 L345.8,385.7 L352.9,385.6 L360.0,385.5 L367.1,385.5 L374.2,385.4 L381.3,385.4 L388.4,385.4 L395.5,385.4 L402.6,385.4" stroke="#56b4e9"/>
</g></g>
<rect x="111.7" y="316.2" width="304.1" height="170.0" fill="none" stroke="#111" stroke-width="1.6"/>
<line x1="111.70" y1="463.00" x2="119.70" y2="463.00" stroke="#111" stroke-width="1.5" />
<text transform="translate(101.70,468.40) scale(1.12,1)" font-family='"Liberation Sans",Arial,sans-serif' font-size="15" text-anchor="end" fill="#222" stroke="#222" stroke-width="0.3" >1</text>
<line x1="111.70" y1="404.20" x2="119.70" y2="404.20" stroke="#111" stroke-width="1.5" />
<text transform="translate(101.70,409.60) scale(1.12,1)" font-family='"Liberation Sans",Arial,sans-serif' font-size="15" text-anchor="end" fill="#222" stroke="#222" stroke-width="0.3" >2</text>
<line x1="111.70" y1="345.40" x2="119.70" y2="345.40" stroke="#111" stroke-width="1.5" />
<text transform="translate(101.70,350.80) scale(1.12,1)" font-family='"Liberation Sans",Arial,sans-serif' font-size="15" text-anchor="end" fill="#222" stroke="#222" stroke-width="0.3" >3</text>
<line x1="123.00" y1="486.20" x2="123.00" y2="479.20" stroke="#111" stroke-width="1.5" />
<text transform="translate(123.00,507.00) scale(1.12,1)" font-family='"Liberation Sans",Arial,sans-serif' font-size="15" text-anchor="middle" fill="#222" stroke="#222" stroke-width="0.3" >0</text>
<line x1="216.20" y1="486.20" x2="216.20" y2="479.20" stroke="#111" stroke-width="1.5" />
<text transform="translate(216.20,507.00) scale(1.12,1)" font-family='"Liberation Sans",Arial,sans-serif' font-size="15" text-anchor="middle" fill="#222" stroke="#222" stroke-width="0.3" >50</text>
<line x1="309.40" y1="486.20" x2="309.40" y2="479.20" stroke="#111" stroke-width="1.5" />
<text transform="translate(309.40,507.00) scale(1.12,1)" font-family='"Liberation Sans",Arial,sans-serif' font-size="15" text-anchor="middle" fill="#222" stroke="#222" stroke-width="0.3" >100</text>
<line x1="402.60" y1="486.20" x2="402.60" y2="479.20" stroke="#111" stroke-width="1.5" />
<text transform="translate(402.60,507.00) scale(1.12,1)" font-family='"Liberation Sans",Arial,sans-serif' font-size="15" text-anchor="middle" fill="#222" stroke="#222" stroke-width="0.3" >150</text>
<text transform="translate(264.40,530.20) scale(1.12,1)" font-family='"Liberation Sans",Arial,sans-serif' font-size="17.5" text-anchor="middle" fill="#1a1a1a" stroke="#1a1a1a" stroke-width="0.3" >Radial position [mm]</text>
<text transform="translate(79.50,402.36) scale(1.1,1) rotate(-90)" font-family='"Liberation Sans",Arial,sans-serif' font-size="18.2" text-anchor="middle" fill="#1a1a1a" stroke="#1a1a1a" stroke-width="0.3" >Growth rate [nm/min]</text>
<path d="M124.5,751.7 L131.6,751.7 L138.8,751.7 L145.9,751.7 L153.0,751.7 L160.1,751.7 L167.3,751.6 L174.4,751.6 L181.5,751.6 L188.7,751.5 L195.8,751.5 L202.9,751.4 L210.0,751.3 L217.2,751.2 L224.3,751.1 L231.4,751.0 L238.6,750.8 L245.7,750.6 L252.8,750.4 L259.9,750.2 L267.1,749.9 L274.2,749.7 L281.3,749.3 L288.5,749.0 L295.6,748.6 L302.7,748.2 L309.8,747.7 L317.0,747.2 L324.1,746.7 L331.2,746.1 L338.3,745.5 L345.5,744.8 L352.6,744.0 L359.7,743.3 L366.9,742.4 L374.0,741.5 L381.1,740.6 L388.2,739.6 L395.4,738.5 L402.5,737.4" fill="none" stroke="#1f77b4" stroke-width="2"/>
<rect x="110.8" y="648.9" width="305.8" height="172.10000000000002" fill="none" stroke="#111" stroke-width="1.6"/>
<line x1="110.80" y1="797.50" x2="118.80" y2="797.50" stroke="#111" stroke-width="1.5" />
<text transform="translate(100.80,802.90) scale(1.12,1)" font-family='"Liberation Sans",Arial,sans-serif' font-size="15" text-anchor="end" fill="#222" stroke="#222" stroke-width="0.3" >1</text>
<line x1="110.80" y1="738.00" x2="118.80" y2="738.00" stroke="#111" stroke-width="1.5" />
<text transform="translate(100.80,743.40) scale(1.12,1)" font-family='"Liberation Sans",Arial,sans-serif' font-size="15" text-anchor="end" fill="#222" stroke="#222" stroke-width="0.3" >2</text>
<line x1="110.80" y1="678.50" x2="118.80" y2="678.50" stroke="#111" stroke-width="1.5" />
<text transform="translate(100.80,683.90) scale(1.12,1)" font-family='"Liberation Sans",Arial,sans-serif' font-size="15" text-anchor="end" fill="#222" stroke="#222" stroke-width="0.3" >3</text>
<line x1="121.70" y1="821.00" x2="121.70" y2="814.00" stroke="#111" stroke-width="1.5" />
<text transform="translate(121.70,841.50) scale(1.12,1)" font-family='"Liberation Sans",Arial,sans-serif' font-size="15" text-anchor="middle" fill="#222" stroke="#222" stroke-width="0.3" >0</text>
<line x1="215.30" y1="821.00" x2="215.30" y2="814.00" stroke="#111" stroke-width="1.5" />
<text transform="translate(215.30,841.50) scale(1.12,1)" font-family='"Liberation Sans",Arial,sans-serif' font-size="15" text-anchor="middle" fill="#222" stroke="#222" stroke-width="0.3" >50</text>
<line x1="308.90" y1="821.00" x2="308.90" y2="814.00" stroke="#111" stroke-width="1.5" />
<text transform="translate(308.90,841.50) scale(1.12,1)" font-family='"Liberation Sans",Arial,sans-serif' font-size="15" text-anchor="middle" fill="#222" stroke="#222" stroke-width="0.3" >100</text>
<line x1="402.50" y1="821.00" x2="402.50" y2="814.00" stroke="#111" stroke-width="1.5" />
<text transform="translate(402.50,841.50) scale(1.12,1)" font-family='"Liberation Sans",Arial,sans-serif' font-size="15" text-anchor="middle" fill="#222" stroke="#222" stroke-width="0.3" >150</text>
<text transform="translate(263.70,865.20) scale(1.12,1)" font-family='"Liberation Sans",Arial,sans-serif' font-size="17.5" text-anchor="middle" fill="#1a1a1a" stroke="#1a1a1a" stroke-width="0.3" >Radial position [mm]</text>
<text transform="translate(79.50,736.12) scale(1.1,1) rotate(-90)" font-family='"Liberation Sans",Arial,sans-serif' font-size="18.2" text-anchor="middle" fill="#1a1a1a" stroke="#1a1a1a" stroke-width="0.3" >Growth rate [nm/min]</text>
</svg>
</body></html>
